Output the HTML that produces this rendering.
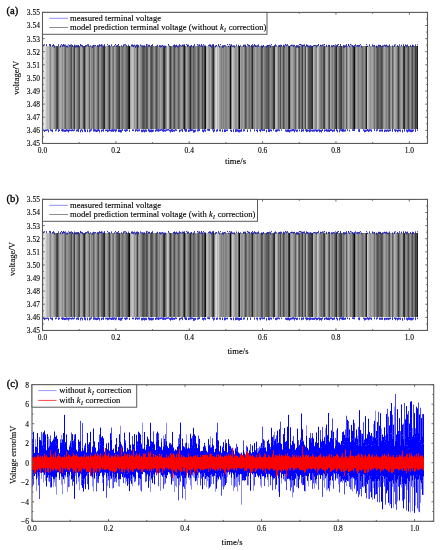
<!DOCTYPE html>
<html><head><meta charset="utf-8"><title>Figure</title>
<style>html,body{margin:0;padding:0;background:#fff;}body{width:441px;height:550px;overflow:hidden;}svg{display:block;}</style>
</head><body>
<svg width="441" height="550" viewBox="0 0 441 550" style="font-family:'Liberation Serif',serif"><rect width="441" height="550" fill="#fff"/><g shape-rendering="crispEdges"><rect x="43" y="45.9" width="1" height="83.2" fill="#dadada"/><rect x="44" y="45.9" width="1" height="83.2" fill="#e6e6e6"/><rect x="45" y="45.9" width="1" height="83.2" fill="#dadada"/><rect x="46" y="45.9" width="1" height="83.2" fill="#c3c3c3"/><rect x="47" y="45.9" width="1" height="83.2" fill="#b5b5b5"/><rect x="48" y="45.9" width="1" height="83.2" fill="#bbbbbb"/><rect x="49" y="45.9" width="1" height="83.2" fill="#a3a3a3"/><rect x="50" y="45.9" width="1" height="83.2" fill="#888888"/><rect x="51" y="45.9" width="1" height="83.2" fill="#aaaaaa"/><rect x="52" y="45.9" width="1" height="83.2" fill="#b2b2b2"/><rect x="53" y="45.9" width="1" height="83.2" fill="#a3a3a3"/><rect x="54" y="45.9" width="1" height="83.2" fill="#919191"/><rect x="55" y="45.9" width="1" height="83.2" fill="#808080"/><rect x="56" y="45.9" width="1" height="83.2" fill="#4c4c4c"/><rect x="57" y="45.9" width="1" height="83.2" fill="#3c3c3c"/><rect x="58" y="45.9" width="1" height="83.2" fill="#6e6e6e"/><rect x="59" y="45.9" width="1" height="83.2" fill="#a3a3a3"/><rect x="60" y="45.9" width="1" height="83.2" fill="#aaaaaa"/><rect x="61" y="45.9" width="1" height="83.2" fill="#a3a3a3"/><rect x="62" y="45.9" width="1" height="83.2" fill="#919191"/><rect x="63" y="45.9" width="1" height="83.2" fill="#a3a3a3"/><rect x="64" y="45.9" width="1" height="83.2" fill="#808080"/><rect x="65" y="45.9" width="1" height="83.2" fill="#5d5d5d"/><rect x="66" y="45.9" width="1" height="83.2" fill="#919191"/><rect x="67" y="45.9" width="1" height="83.2" fill="#919191"/><rect x="68" y="45.9" width="1" height="83.2" fill="#888888"/><rect x="69" y="45.9" width="1" height="83.2" fill="#808080"/><rect x="70" y="45.9" width="1" height="83.2" fill="#6e6e6e"/><rect x="71" y="45.9" width="1" height="83.2" fill="#4c4c4c"/><rect x="72" y="45.9" width="1" height="83.2" fill="#919191"/><rect x="73" y="45.9" width="1" height="83.2" fill="#6e6e6e"/><rect x="74" y="45.9" width="1" height="83.2" fill="#3c3c3c"/><rect x="75" y="45.9" width="1" height="83.2" fill="#a3a3a3"/><rect x="76" y="45.9" width="1" height="83.2" fill="#919191"/><rect x="77" y="45.9" width="1" height="83.2" fill="#808080"/><rect x="78" y="45.9" width="1" height="83.2" fill="#5d5d5d"/><rect x="79" y="45.9" width="1" height="83.2" fill="#4c4c4c"/><rect x="80" y="45.9" width="1" height="83.2" fill="#a3a3a3"/><rect x="81" y="45.9" width="1" height="83.2" fill="#a3a3a3"/><rect x="82" y="45.9" width="1" height="83.2" fill="#919191"/><rect x="83" y="45.9" width="1" height="83.2" fill="#4c4c4c"/><rect x="84" y="45.9" width="1" height="83.2" fill="#2b2b2b"/><rect x="85" y="45.9" width="1" height="83.2" fill="#808080"/><rect x="86" y="45.9" width="1" height="83.2" fill="#aaaaaa"/><rect x="87" y="45.9" width="1" height="83.2" fill="#a3a3a3"/><rect x="88" y="45.9" width="1" height="83.2" fill="#919191"/><rect x="89" y="45.9" width="1" height="83.2" fill="#5d5d5d"/><rect x="90" y="45.9" width="1" height="83.2" fill="#a3a3a3"/><rect x="91" y="45.9" width="1" height="83.2" fill="#808080"/><rect x="92" y="45.9" width="1" height="83.2" fill="#919191"/><rect x="93" y="45.9" width="1" height="83.2" fill="#5d5d5d"/><rect x="94" y="45.9" width="1" height="83.2" fill="#808080"/><rect x="95" y="45.9" width="1" height="83.2" fill="#a3a3a3"/><rect x="96" y="45.9" width="1" height="83.2" fill="#919191"/><rect x="97" y="45.9" width="1" height="83.2" fill="#6e6e6e"/><rect x="98" y="45.9" width="1" height="83.2" fill="#4c4c4c"/><rect x="99" y="45.9" width="1" height="83.2" fill="#919191"/><rect x="100" y="45.9" width="1" height="83.2" fill="#919191"/><rect x="101" y="45.9" width="1" height="83.2" fill="#6e6e6e"/><rect x="102" y="45.9" width="1" height="83.2" fill="#5d5d5d"/><rect x="103" y="45.9" width="1" height="83.2" fill="#3c3c3c"/><rect x="104" y="45.9" width="1" height="83.2" fill="#2b2b2b"/><rect x="105" y="45.9" width="1" height="83.2" fill="#919191"/><rect x="106" y="45.9" width="1" height="83.2" fill="#a3a3a3"/><rect x="107" y="45.9" width="1" height="83.2" fill="#919191"/><rect x="108" y="45.9" width="1" height="83.2" fill="#6e6e6e"/><rect x="109" y="45.9" width="1" height="83.2" fill="#3c3c3c"/><rect x="110" y="45.9" width="1" height="83.2" fill="#808080"/><rect x="111" y="45.9" width="1" height="83.2" fill="#a3a3a3"/><rect x="112" y="45.9" width="1" height="83.2" fill="#808080"/><rect x="113" y="45.9" width="1" height="83.2" fill="#6e6e6e"/><rect x="114" y="45.9" width="1" height="83.2" fill="#a3a3a3"/><rect x="115" y="45.9" width="1" height="83.2" fill="#919191"/><rect x="116" y="45.9" width="1" height="83.2" fill="#6e6e6e"/><rect x="117" y="45.9" width="1" height="83.2" fill="#5d5d5d"/><rect x="118" y="45.9" width="1" height="83.2" fill="#4c4c4c"/><rect x="119" y="45.9" width="1" height="83.2" fill="#3c3c3c"/><rect x="120" y="45.9" width="1" height="83.2" fill="#919191"/><rect x="121" y="45.9" width="1" height="83.2" fill="#808080"/><rect x="122" y="45.9" width="1" height="83.2" fill="#6e6e6e"/><rect x="123" y="45.9" width="1" height="83.2" fill="#808080"/><rect x="124" y="45.9" width="1" height="83.2" fill="#919191"/><rect x="125" y="45.9" width="1" height="83.2" fill="#808080"/><rect x="126" y="45.9" width="1" height="83.2" fill="#6e6e6e"/><rect x="127" y="45.9" width="1" height="83.2" fill="#5d5d5d"/><rect x="128" y="45.9" width="1" height="83.2" fill="#2b2b2b"/><rect x="129" y="45.9" width="1" height="83.2" fill="#0d0d0d"/><rect x="130" y="45.9" width="1" height="83.2" fill="#a3a3a3"/><rect x="131" y="45.9" width="1" height="83.2" fill="#bbbbbb"/><rect x="132" y="45.9" width="1" height="83.2" fill="#c3c3c3"/><rect x="133" y="45.9" width="1" height="83.2" fill="#b5b5b5"/><rect x="134" y="45.9" width="1" height="83.2" fill="#919191"/><rect x="135" y="45.9" width="1" height="83.2" fill="#a3a3a3"/><rect x="136" y="45.9" width="1" height="83.2" fill="#808080"/><rect x="137" y="45.9" width="1" height="83.2" fill="#3c3c3c"/><rect x="138" y="45.9" width="1" height="83.2" fill="#919191"/><rect x="139" y="45.9" width="1" height="83.2" fill="#a3a3a3"/><rect x="140" y="45.9" width="1" height="83.2" fill="#919191"/><rect x="141" y="45.9" width="1" height="83.2" fill="#808080"/><rect x="142" y="45.9" width="1" height="83.2" fill="#5d5d5d"/><rect x="143" y="45.9" width="1" height="83.2" fill="#4c4c4c"/><rect x="144" y="45.9" width="1" height="83.2" fill="#5d5d5d"/><rect x="145" y="45.9" width="1" height="83.2" fill="#6e6e6e"/><rect x="146" y="45.9" width="1" height="83.2" fill="#4c4c4c"/><rect x="147" y="45.9" width="1" height="83.2" fill="#5d5d5d"/><rect x="148" y="45.9" width="1" height="83.2" fill="#919191"/><rect x="149" y="45.9" width="1" height="83.2" fill="#a3a3a3"/><rect x="150" y="45.9" width="1" height="83.2" fill="#5d5d5d"/><rect x="151" y="45.9" width="1" height="83.2" fill="#4c4c4c"/><rect x="152" y="45.9" width="1" height="83.2" fill="#5d5d5d"/><rect x="153" y="45.9" width="1" height="83.2" fill="#808080"/><rect x="154" y="45.9" width="1" height="83.2" fill="#919191"/><rect x="155" y="45.9" width="1" height="83.2" fill="#6e6e6e"/><rect x="156" y="45.9" width="1" height="83.2" fill="#4c4c4c"/><rect x="157" y="45.9" width="1" height="83.2" fill="#6e6e6e"/><rect x="158" y="45.9" width="1" height="83.2" fill="#919191"/><rect x="159" y="45.9" width="1" height="83.2" fill="#808080"/><rect x="160" y="45.9" width="1" height="83.2" fill="#a3a3a3"/><rect x="161" y="45.9" width="1" height="83.2" fill="#919191"/><rect x="162" y="45.9" width="1" height="83.2" fill="#808080"/><rect x="163" y="45.9" width="1" height="83.2" fill="#3c3c3c"/><rect x="164" y="45.9" width="1" height="83.2" fill="#2b2b2b"/><rect x="165" y="45.9" width="1" height="83.2" fill="#6e6e6e"/><rect x="166" y="45.9" width="1" height="83.2" fill="#919191"/><rect x="167" y="45.9" width="1" height="83.2" fill="#c3c3c3"/><rect x="168" y="45.9" width="1" height="83.2" fill="#b5b5b5"/><rect x="169" y="45.9" width="1" height="83.2" fill="#6e6e6e"/><rect x="170" y="45.9" width="1" height="83.2" fill="#3c3c3c"/><rect x="171" y="45.9" width="1" height="83.2" fill="#6e6e6e"/><rect x="172" y="45.9" width="1" height="83.2" fill="#919191"/><rect x="173" y="45.9" width="1" height="83.2" fill="#6e6e6e"/><rect x="174" y="45.9" width="1" height="83.2" fill="#4c4c4c"/><rect x="175" y="45.9" width="1" height="83.2" fill="#808080"/><rect x="176" y="45.9" width="1" height="83.2" fill="#919191"/><rect x="177" y="45.9" width="1" height="83.2" fill="#808080"/><rect x="178" y="45.9" width="1" height="83.2" fill="#5d5d5d"/><rect x="179" y="45.9" width="1" height="83.2" fill="#6e6e6e"/><rect x="180" y="45.9" width="1" height="83.2" fill="#919191"/><rect x="181" y="45.9" width="1" height="83.2" fill="#a3a3a3"/><rect x="182" y="45.9" width="1" height="83.2" fill="#919191"/><rect x="183" y="45.9" width="1" height="83.2" fill="#4c4c4c"/><rect x="184" y="45.9" width="1" height="83.2" fill="#1c1c1c"/><rect x="185" y="45.9" width="1" height="83.2" fill="#6e6e6e"/><rect x="186" y="45.9" width="1" height="83.2" fill="#a3a3a3"/><rect x="187" y="45.9" width="1" height="83.2" fill="#919191"/><rect x="188" y="45.9" width="1" height="83.2" fill="#808080"/><rect x="189" y="45.9" width="1" height="83.2" fill="#5d5d5d"/><rect x="190" y="45.9" width="1" height="83.2" fill="#2b2b2b"/><rect x="191" y="45.9" width="1" height="83.2" fill="#6e6e6e"/><rect x="192" y="45.9" width="1" height="83.2" fill="#808080"/><rect x="193" y="45.9" width="1" height="83.2" fill="#5d5d5d"/><rect x="194" y="45.9" width="1" height="83.2" fill="#6e6e6e"/><rect x="195" y="45.9" width="1" height="83.2" fill="#808080"/><rect x="196" y="45.9" width="1" height="83.2" fill="#919191"/><rect x="197" y="45.9" width="1" height="83.2" fill="#6e6e6e"/><rect x="198" y="45.9" width="1" height="83.2" fill="#4c4c4c"/><rect x="199" y="45.9" width="1" height="83.2" fill="#6e6e6e"/><rect x="200" y="45.9" width="1" height="83.2" fill="#919191"/><rect x="201" y="45.9" width="1" height="83.2" fill="#808080"/><rect x="202" y="45.9" width="1" height="83.2" fill="#4c4c4c"/><rect x="203" y="45.9" width="1" height="83.2" fill="#6e6e6e"/><rect x="204" y="45.9" width="1" height="83.2" fill="#3c3c3c"/><rect x="205" y="45.9" width="1" height="83.2" fill="#0d0d0d"/><rect x="206" y="45.9" width="1" height="83.2" fill="#b5b5b5"/><rect x="207" y="45.9" width="1" height="83.2" fill="#bbbbbb"/><rect x="208" y="45.9" width="1" height="83.2" fill="#a3a3a3"/><rect x="209" y="45.9" width="1" height="83.2" fill="#919191"/><rect x="210" y="45.9" width="1" height="83.2" fill="#a3a3a3"/><rect x="211" y="45.9" width="1" height="83.2" fill="#808080"/><rect x="212" y="45.9" width="1" height="83.2" fill="#4c4c4c"/><rect x="213" y="45.9" width="1" height="83.2" fill="#2b2b2b"/><rect x="214" y="45.9" width="1" height="83.2" fill="#808080"/><rect x="215" y="45.9" width="1" height="83.2" fill="#c7c7c7"/><rect x="216" y="45.9" width="1" height="83.2" fill="#dadada"/><rect x="217" y="45.9" width="1" height="83.2" fill="#b5b5b5"/><rect x="218" y="45.9" width="1" height="83.2" fill="#c7c7c7"/><rect x="219" y="45.9" width="1" height="83.2" fill="#a3a3a3"/><rect x="220" y="45.9" width="1" height="83.2" fill="#919191"/><rect x="221" y="45.9" width="1" height="83.2" fill="#808080"/><rect x="222" y="45.9" width="1" height="83.2" fill="#919191"/><rect x="223" y="45.9" width="1" height="83.2" fill="#808080"/><rect x="224" y="45.9" width="1" height="83.2" fill="#919191"/><rect x="225" y="45.9" width="1" height="83.2" fill="#808080"/><rect x="226" y="45.9" width="1" height="83.2" fill="#808080"/><rect x="227" y="45.9" width="1" height="83.2" fill="#919191"/><rect x="228" y="45.9" width="1" height="83.2" fill="#919191"/><rect x="229" y="45.9" width="1" height="83.2" fill="#6e6e6e"/><rect x="230" y="45.9" width="1" height="83.2" fill="#0d0d0d"/><rect x="231" y="45.9" width="1" height="83.2" fill="#808080"/><rect x="232" y="45.9" width="1" height="83.2" fill="#c7c7c7"/><rect x="233" y="45.9" width="1" height="83.2" fill="#b5b5b5"/><rect x="234" y="45.9" width="1" height="83.2" fill="#a3a3a3"/><rect x="235" y="45.9" width="1" height="83.2" fill="#919191"/><rect x="236" y="45.9" width="1" height="83.2" fill="#919191"/><rect x="237" y="45.9" width="1" height="83.2" fill="#a3a3a3"/><rect x="238" y="45.9" width="1" height="83.2" fill="#4c4c4c"/><rect x="239" y="45.9" width="1" height="83.2" fill="#0d0d0d"/><rect x="240" y="45.9" width="1" height="83.2" fill="#a3a3a3"/><rect x="241" y="45.9" width="1" height="83.2" fill="#919191"/><rect x="242" y="45.9" width="1" height="83.2" fill="#919191"/><rect x="243" y="45.9" width="1" height="83.2" fill="#a3a3a3"/><rect x="244" y="45.9" width="1" height="83.2" fill="#808080"/><rect x="245" y="45.9" width="1" height="83.2" fill="#4c4c4c"/><rect x="246" y="45.9" width="1" height="83.2" fill="#6e6e6e"/><rect x="247" y="45.9" width="1" height="83.2" fill="#919191"/><rect x="248" y="45.9" width="1" height="83.2" fill="#808080"/><rect x="249" y="45.9" width="1" height="83.2" fill="#6e6e6e"/><rect x="250" y="45.9" width="1" height="83.2" fill="#808080"/><rect x="251" y="45.9" width="1" height="83.2" fill="#5d5d5d"/><rect x="252" y="45.9" width="1" height="83.2" fill="#2b2b2b"/><rect x="253" y="45.9" width="1" height="83.2" fill="#808080"/><rect x="254" y="45.9" width="1" height="83.2" fill="#919191"/><rect x="255" y="45.9" width="1" height="83.2" fill="#a3a3a3"/><rect x="256" y="45.9" width="1" height="83.2" fill="#919191"/><rect x="257" y="45.9" width="1" height="83.2" fill="#808080"/><rect x="258" y="45.9" width="1" height="83.2" fill="#919191"/><rect x="259" y="45.9" width="1" height="83.2" fill="#919191"/><rect x="260" y="45.9" width="1" height="83.2" fill="#808080"/><rect x="261" y="45.9" width="1" height="83.2" fill="#4c4c4c"/><rect x="262" y="45.9" width="1" height="83.2" fill="#5d5d5d"/><rect x="263" y="45.9" width="1" height="83.2" fill="#919191"/><rect x="264" y="45.9" width="1" height="83.2" fill="#808080"/><rect x="265" y="45.9" width="1" height="83.2" fill="#6e6e6e"/><rect x="266" y="45.9" width="1" height="83.2" fill="#5d5d5d"/><rect x="267" y="45.9" width="1" height="83.2" fill="#5d5d5d"/><rect x="268" y="45.9" width="1" height="83.2" fill="#4c4c4c"/><rect x="269" y="45.9" width="1" height="83.2" fill="#6e6e6e"/><rect x="270" y="45.9" width="1" height="83.2" fill="#919191"/><rect x="271" y="45.9" width="1" height="83.2" fill="#808080"/><rect x="272" y="45.9" width="1" height="83.2" fill="#6e6e6e"/><rect x="273" y="45.9" width="1" height="83.2" fill="#3c3c3c"/><rect x="274" y="45.9" width="1" height="83.2" fill="#2b2b2b"/><rect x="275" y="45.9" width="1" height="83.2" fill="#b5b5b5"/><rect x="276" y="45.9" width="1" height="83.2" fill="#bbbbbb"/><rect x="277" y="45.9" width="1" height="83.2" fill="#a3a3a3"/><rect x="278" y="45.9" width="1" height="83.2" fill="#6e6e6e"/><rect x="279" y="45.9" width="1" height="83.2" fill="#808080"/><rect x="280" y="45.9" width="1" height="83.2" fill="#4c4c4c"/><rect x="281" y="45.9" width="1" height="83.2" fill="#919191"/><rect x="282" y="45.9" width="1" height="83.2" fill="#808080"/><rect x="283" y="45.9" width="1" height="83.2" fill="#4c4c4c"/><rect x="284" y="45.9" width="1" height="83.2" fill="#6e6e6e"/><rect x="285" y="45.9" width="1" height="83.2" fill="#919191"/><rect x="286" y="45.9" width="1" height="83.2" fill="#808080"/><rect x="287" y="45.9" width="1" height="83.2" fill="#919191"/><rect x="288" y="45.9" width="1" height="83.2" fill="#3c3c3c"/><rect x="289" y="45.9" width="1" height="83.2" fill="#1c1c1c"/><rect x="290" y="45.9" width="1" height="83.2" fill="#919191"/><rect x="291" y="45.9" width="1" height="83.2" fill="#a3a3a3"/><rect x="292" y="45.9" width="1" height="83.2" fill="#a3a3a3"/><rect x="293" y="45.9" width="1" height="83.2" fill="#919191"/><rect x="294" y="45.9" width="1" height="83.2" fill="#808080"/><rect x="295" y="45.9" width="1" height="83.2" fill="#5d5d5d"/><rect x="296" y="45.9" width="1" height="83.2" fill="#919191"/><rect x="297" y="45.9" width="1" height="83.2" fill="#b5b5b5"/><rect x="298" y="45.9" width="1" height="83.2" fill="#6e6e6e"/><rect x="299" y="45.9" width="1" height="83.2" fill="#4c4c4c"/><rect x="300" y="45.9" width="1" height="83.2" fill="#808080"/><rect x="301" y="45.9" width="1" height="83.2" fill="#6e6e6e"/><rect x="302" y="45.9" width="1" height="83.2" fill="#3c3c3c"/><rect x="303" y="45.9" width="1" height="83.2" fill="#919191"/><rect x="304" y="45.9" width="1" height="83.2" fill="#808080"/><rect x="305" y="45.9" width="1" height="83.2" fill="#4c4c4c"/><rect x="306" y="45.9" width="1" height="83.2" fill="#b5b5b5"/><rect x="307" y="45.9" width="1" height="83.2" fill="#919191"/><rect x="308" y="45.9" width="1" height="83.2" fill="#5d5d5d"/><rect x="309" y="45.9" width="1" height="83.2" fill="#4c4c4c"/><rect x="310" y="45.9" width="1" height="83.2" fill="#4c4c4c"/><rect x="311" y="45.9" width="1" height="83.2" fill="#3c3c3c"/><rect x="312" y="45.9" width="1" height="83.2" fill="#2b2b2b"/><rect x="313" y="45.9" width="1" height="83.2" fill="#b5b5b5"/><rect x="314" y="45.9" width="1" height="83.2" fill="#a3a3a3"/><rect x="315" y="45.9" width="1" height="83.2" fill="#919191"/><rect x="316" y="45.9" width="1" height="83.2" fill="#808080"/><rect x="317" y="45.9" width="1" height="83.2" fill="#c7c7c7"/><rect x="318" y="45.9" width="1" height="83.2" fill="#b5b5b5"/><rect x="319" y="45.9" width="1" height="83.2" fill="#919191"/><rect x="320" y="45.9" width="1" height="83.2" fill="#808080"/><rect x="321" y="45.9" width="1" height="83.2" fill="#6e6e6e"/><rect x="322" y="45.9" width="1" height="83.2" fill="#808080"/><rect x="323" y="45.9" width="1" height="83.2" fill="#4c4c4c"/><rect x="324" y="45.9" width="1" height="83.2" fill="#3c3c3c"/><rect x="325" y="45.9" width="1" height="83.2" fill="#919191"/><rect x="326" y="45.9" width="1" height="83.2" fill="#b5b5b5"/><rect x="327" y="45.9" width="1" height="83.2" fill="#a3a3a3"/><rect x="328" y="45.9" width="1" height="83.2" fill="#6e6e6e"/><rect x="329" y="45.9" width="1" height="83.2" fill="#4c4c4c"/><rect x="330" y="45.9" width="1" height="83.2" fill="#a3a3a3"/><rect x="331" y="45.9" width="1" height="83.2" fill="#919191"/><rect x="332" y="45.9" width="1" height="83.2" fill="#808080"/><rect x="333" y="45.9" width="1" height="83.2" fill="#919191"/><rect x="334" y="45.9" width="1" height="83.2" fill="#6e6e6e"/><rect x="335" y="45.9" width="1" height="83.2" fill="#4c4c4c"/><rect x="336" y="45.9" width="1" height="83.2" fill="#2b2b2b"/><rect x="337" y="45.9" width="1" height="83.2" fill="#919191"/><rect x="338" y="45.9" width="1" height="83.2" fill="#808080"/><rect x="339" y="45.9" width="1" height="83.2" fill="#5d5d5d"/><rect x="340" y="45.9" width="1" height="83.2" fill="#4c4c4c"/><rect x="341" y="45.9" width="1" height="83.2" fill="#3c3c3c"/><rect x="342" y="45.9" width="1" height="83.2" fill="#808080"/><rect x="343" y="45.9" width="1" height="83.2" fill="#6e6e6e"/><rect x="344" y="45.9" width="1" height="83.2" fill="#919191"/><rect x="345" y="45.9" width="1" height="83.2" fill="#a3a3a3"/><rect x="346" y="45.9" width="1" height="83.2" fill="#5d5d5d"/><rect x="347" y="45.9" width="1" height="83.2" fill="#919191"/><rect x="348" y="45.9" width="1" height="83.2" fill="#b5b5b5"/><rect x="349" y="45.9" width="1" height="83.2" fill="#a3a3a3"/><rect x="350" y="45.9" width="1" height="83.2" fill="#808080"/><rect x="351" y="45.9" width="1" height="83.2" fill="#919191"/><rect x="352" y="45.9" width="1" height="83.2" fill="#6e6e6e"/><rect x="353" y="45.9" width="1" height="83.2" fill="#3c3c3c"/><rect x="354" y="45.9" width="1" height="83.2" fill="#0d0d0d"/><rect x="355" y="45.9" width="1" height="83.2" fill="#808080"/><rect x="356" y="45.9" width="1" height="83.2" fill="#a3a3a3"/><rect x="357" y="45.9" width="1" height="83.2" fill="#919191"/><rect x="358" y="45.9" width="1" height="83.2" fill="#808080"/><rect x="359" y="45.9" width="1" height="83.2" fill="#919191"/><rect x="360" y="45.9" width="1" height="83.2" fill="#919191"/><rect x="361" y="45.9" width="1" height="83.2" fill="#808080"/><rect x="362" y="45.9" width="1" height="83.2" fill="#6e6e6e"/><rect x="363" y="45.9" width="1" height="83.2" fill="#808080"/><rect x="364" y="45.9" width="1" height="83.2" fill="#919191"/><rect x="365" y="45.9" width="1" height="83.2" fill="#5d5d5d"/><rect x="366" y="45.9" width="1" height="83.2" fill="#1c1c1c"/><rect x="367" y="45.9" width="1" height="83.2" fill="#c7c7c7"/><rect x="368" y="45.9" width="1" height="83.2" fill="#b5b5b5"/><rect x="369" y="45.9" width="1" height="83.2" fill="#a3a3a3"/><rect x="370" y="45.9" width="1" height="83.2" fill="#919191"/><rect x="371" y="45.9" width="1" height="83.2" fill="#a3a3a3"/><rect x="372" y="45.9" width="1" height="83.2" fill="#a3a3a3"/><rect x="373" y="45.9" width="1" height="83.2" fill="#919191"/><rect x="374" y="45.9" width="1" height="83.2" fill="#6e6e6e"/><rect x="375" y="45.9" width="1" height="83.2" fill="#919191"/><rect x="376" y="45.9" width="1" height="83.2" fill="#6e6e6e"/><rect x="377" y="45.9" width="1" height="83.2" fill="#4c4c4c"/><rect x="378" y="45.9" width="1" height="83.2" fill="#5d5d5d"/><rect x="379" y="45.9" width="1" height="83.2" fill="#6e6e6e"/><rect x="380" y="45.9" width="1" height="83.2" fill="#5d5d5d"/><rect x="381" y="45.9" width="1" height="83.2" fill="#4c4c4c"/><rect x="382" y="45.9" width="1" height="83.2" fill="#5d5d5d"/><rect x="383" y="45.9" width="1" height="83.2" fill="#919191"/><rect x="384" y="45.9" width="1" height="83.2" fill="#a3a3a3"/><rect x="385" y="45.9" width="1" height="83.2" fill="#919191"/><rect x="386" y="45.9" width="1" height="83.2" fill="#808080"/><rect x="387" y="45.9" width="1" height="83.2" fill="#919191"/><rect x="388" y="45.9" width="1" height="83.2" fill="#6e6e6e"/><rect x="389" y="45.9" width="1" height="83.2" fill="#4c4c4c"/><rect x="390" y="45.9" width="1" height="83.2" fill="#919191"/><rect x="391" y="45.9" width="1" height="83.2" fill="#a3a3a3"/><rect x="392" y="45.9" width="1" height="83.2" fill="#5d5d5d"/><rect x="393" y="45.9" width="1" height="83.2" fill="#808080"/><rect x="394" y="45.9" width="1" height="83.2" fill="#b5b5b5"/><rect x="395" y="45.9" width="1" height="83.2" fill="#a3a3a3"/><rect x="396" y="45.9" width="1" height="83.2" fill="#919191"/><rect x="397" y="45.9" width="1" height="83.2" fill="#6e6e6e"/><rect x="398" y="45.9" width="1" height="83.2" fill="#3c3c3c"/><rect x="399" y="45.9" width="1" height="83.2" fill="#6e6e6e"/><rect x="400" y="45.9" width="1" height="83.2" fill="#919191"/><rect x="401" y="45.9" width="1" height="83.2" fill="#a3a3a3"/><rect x="402" y="45.9" width="1" height="83.2" fill="#919191"/><rect x="403" y="45.9" width="1" height="83.2" fill="#3c3c3c"/><rect x="404" y="45.9" width="1" height="83.2" fill="#2b2b2b"/><rect x="405" y="45.9" width="1" height="83.2" fill="#808080"/><rect x="406" y="45.9" width="1" height="83.2" fill="#919191"/><rect x="407" y="45.9" width="1" height="83.2" fill="#6e6e6e"/><rect x="408" y="45.9" width="1" height="83.2" fill="#4c4c4c"/><rect x="409" y="45.9" width="1" height="83.2" fill="#808080"/><rect x="410" y="45.9" width="1" height="83.2" fill="#919191"/><rect x="411" y="45.9" width="1" height="83.2" fill="#6e6e6e"/><rect x="412" y="45.9" width="1" height="83.2" fill="#4c4c4c"/><rect x="413" y="45.9" width="1" height="83.2" fill="#808080"/><rect x="414" y="45.9" width="1" height="83.2" fill="#6e6e6e"/><rect x="415" y="45.9" width="1" height="83.2" fill="#3c3c3c"/><rect x="416" y="45.9" width="1" height="83.2" fill="#4c4c4c"/><rect x="417" y="45.9" width="1" height="83.2" fill="#1c1c1c"/></g><path d="M43.5 44.8v1.5M44.5 44.2v1.4M46.5 44.2v1.7M49.5 44.1v1.6M50.5 44.1v2.2M52.5 45.1v1.5M53.5 44.1v2.2M54.5 45.5v2.2M58.5 44.3v1.6M60.5 45.2v2.2M61.5 44.0v1.4M62.5 45.0v1.9M63.5 44.0v2.3M64.5 44.7v1.8M65.5 44.5v1.3M66.5 45.7v1.6M67.5 45.6v1.9M68.5 44.4v1.0M69.5 44.9v1.8M70.5 44.7v1.4M71.5 44.4v1.4M72.5 45.0v2.0M74.5 44.6v2.2M75.5 45.4v2.1M76.5 45.2v2.1M77.5 45.2v2.1M78.5 45.0v2.3M80.5 44.0v2.3M81.5 44.8v1.4M82.5 45.2v2.1M85.5 45.2v1.9M86.5 45.1v1.4M87.5 44.3v1.5M88.5 44.3v2.3M90.5 45.3v1.4M92.5 45.6v2.4M93.5 44.8v1.4M94.5 45.1v1.3M95.5 45.1v1.1M97.5 45.1v1.7M98.5 45.3v1.8M99.5 44.2v2.3M100.5 44.9v1.2M101.5 44.2v2.1M102.5 44.7v1.0M103.5 45.6v2.2M104.5 44.2v1.9M107.5 44.1v1.1M108.5 45.4v1.3M109.5 45.0v1.5M111.5 44.4v1.9M114.5 45.3v1.3M115.5 44.0v1.4M116.5 45.3v1.3M117.5 45.1v1.5M118.5 44.0v1.7M121.5 45.3v1.3M123.5 44.5v2.2M124.5 44.2v1.4M125.5 44.2v1.4M126.5 45.1v1.6M128.5 44.6v1.2M131.5 44.5v1.9M132.5 44.4v2.3M133.5 45.1v2.0M134.5 44.6v1.3M135.5 45.5v2.3M136.5 44.7v1.9M137.5 44.5v2.1M138.5 45.1v2.2M140.5 44.4v1.5M141.5 45.3v1.1M142.5 45.4v1.6M143.5 45.5v1.6M144.5 45.3v2.1M146.5 44.0v2.0M147.5 44.4v1.0M148.5 44.9v1.7M149.5 44.8v1.9M151.5 45.1v1.3M152.5 44.2v2.0M156.5 45.7v1.1M157.5 44.8v1.6M159.5 45.1v1.5M160.5 45.4v2.1M161.5 45.4v1.6M162.5 44.9v1.1M163.5 45.7v1.6M164.5 45.6v1.7M165.5 45.7v2.0M168.5 44.0v1.8M169.5 45.7v1.1M173.5 45.0v1.5M174.5 44.4v2.2M175.5 45.3v2.1M176.5 44.7v2.0M177.5 45.7v1.7M178.5 45.6v1.3M179.5 44.2v2.2M180.5 45.1v1.1M181.5 45.6v1.1M182.5 44.6v1.8M183.5 44.7v1.6M184.5 44.3v1.7M186.5 44.1v1.1M187.5 44.6v2.1M188.5 44.7v1.6M190.5 45.6v1.5M191.5 45.0v1.9M193.5 45.5v2.3M194.5 44.1v1.8M197.5 44.1v1.3M198.5 44.6v1.1M199.5 44.4v2.0M200.5 45.6v1.2M201.5 44.0v2.4M202.5 45.5v1.4M203.5 44.2v1.4M204.5 45.3v2.1M205.5 45.5v1.1M208.5 45.1v1.1M209.5 44.3v1.6M210.5 44.5v2.3M211.5 45.5v2.1M212.5 44.3v1.8M213.5 44.1v2.3M215.5 45.4v2.0M216.5 45.0v1.5M218.5 44.2v2.2M219.5 45.7v1.8M220.5 44.1v1.1M222.5 45.4v2.3M223.5 45.3v2.3M224.5 45.0v1.4M225.5 45.3v1.3M227.5 44.0v1.1M228.5 45.7v1.3M229.5 44.1v1.2M230.5 44.6v1.2M231.5 44.3v2.2M232.5 45.6v1.5M233.5 45.5v1.2M234.5 45.4v2.3M236.5 44.5v1.4M238.5 44.8v2.2M240.5 45.3v1.3M243.5 44.8v2.1M244.5 44.7v1.5M245.5 44.7v2.4M247.5 44.0v1.4M248.5 44.6v1.4M249.5 44.9v1.7M251.5 45.0v2.2M252.5 44.2v1.5M253.5 45.4v1.8M254.5 44.2v2.0M255.5 45.1v1.9M256.5 45.5v1.3M257.5 45.2v1.4M258.5 44.4v2.2M261.5 45.4v2.2M262.5 45.7v2.2M263.5 45.0v1.9M266.5 45.7v1.7M267.5 45.0v1.8M268.5 45.0v1.1M269.5 44.7v1.1M270.5 45.2v2.4M271.5 44.1v1.2M274.5 45.2v1.3M275.5 44.3v2.3M276.5 45.4v1.1M278.5 45.3v1.4M279.5 45.0v1.8M280.5 44.7v1.2M281.5 44.8v1.8M283.5 44.7v1.4M284.5 45.3v2.1M285.5 44.0v1.7M286.5 44.7v1.2M287.5 44.2v1.6M288.5 45.6v2.1M290.5 45.2v1.0M291.5 44.7v1.3M292.5 44.8v1.4M293.5 45.0v1.8M294.5 44.8v1.2M296.5 45.2v2.3M297.5 45.3v2.3M298.5 45.3v2.4M299.5 44.1v1.1M300.5 44.0v1.5M301.5 44.5v1.4M302.5 44.8v2.0M303.5 44.7v1.5M304.5 44.4v1.7M306.5 44.4v2.3M307.5 44.9v2.0M308.5 45.5v1.2M309.5 45.6v2.1M310.5 45.3v2.0M311.5 45.7v1.7M313.5 45.2v1.3M314.5 45.0v1.1M315.5 45.2v1.0M316.5 45.3v2.1M317.5 45.0v1.4M318.5 44.1v1.8M320.5 44.8v1.7M321.5 44.9v1.0M322.5 44.5v1.4M323.5 44.6v1.1M324.5 44.0v1.3M326.5 44.8v2.3M328.5 44.9v1.8M329.5 44.9v1.4M331.5 45.3v1.8M332.5 45.4v1.7M333.5 45.0v1.1M334.5 45.3v1.3M335.5 44.4v1.1M336.5 45.1v1.7M337.5 44.5v2.3M338.5 44.0v1.2M340.5 44.2v2.3M343.5 45.1v2.4M344.5 45.3v2.3M345.5 45.4v1.8M346.5 44.2v2.3M348.5 44.0v2.3M349.5 45.5v1.6M350.5 44.0v1.3M351.5 44.6v1.1M352.5 45.1v1.9M353.5 45.7v2.2M354.5 45.2v1.8M355.5 44.3v1.6M356.5 45.5v1.2M357.5 45.1v1.7M358.5 45.1v1.5M359.5 44.9v1.7M360.5 44.2v1.2M361.5 45.6v1.8M366.5 44.1v1.1M367.5 45.7v1.3M369.5 44.4v2.0M372.5 44.4v2.1M373.5 45.3v1.2M374.5 45.0v1.7M376.5 45.6v2.3M378.5 44.7v1.5M379.5 44.9v1.9M380.5 44.9v2.2M382.5 45.4v1.4M383.5 45.4v1.3M384.5 44.7v1.4M385.5 45.0v1.7M386.5 44.6v1.8M387.5 45.6v1.8M388.5 45.7v1.2M389.5 44.5v1.9M392.5 45.5v1.6M394.5 44.6v2.4M395.5 44.3v1.1M397.5 45.1v1.6M399.5 44.3v1.5M401.5 44.7v1.7M403.5 44.3v2.2M405.5 44.4v1.8M406.5 45.2v2.3M407.5 44.6v1.7M410.5 45.1v1.8M412.5 44.7v2.2M413.5 45.2v1.9M415.5 44.4v1.5M417.5 44.3v1.0" stroke="#2828b0" stroke-width="1" fill="none"/><path d="M43.5 129.5v1.5M44.5 129.8v2.2M45.5 129.5v1.6M46.5 129.5v1.5M47.5 129.2v1.4M48.5 129.5v2.8M50.5 129.1v1.7M51.5 129.5v1.9M52.5 129.4v2.8M55.5 129.5v1.7M56.5 129.2v1.5M58.5 129.2v2.6M59.5 129.5v1.5M61.5 129.4v1.5M62.5 129.0v2.8M63.5 129.3v2.2M64.5 129.7v2.2M65.5 129.7v2.2M66.5 129.0v2.4M67.5 129.5v2.0M68.5 129.5v2.9M69.5 129.3v1.9M70.5 129.6v1.4M71.5 129.6v1.8M72.5 129.2v1.9M73.5 129.6v1.7M74.5 129.1v1.6M76.5 129.6v2.0M77.5 129.2v2.1M78.5 129.0v2.9M80.5 129.6v2.7M81.5 129.1v1.5M82.5 129.7v2.5M84.5 129.0v2.6M85.5 129.3v2.9M87.5 129.4v2.7M89.5 129.5v2.8M90.5 129.3v2.2M91.5 129.0v1.6M93.5 129.2v2.4M94.5 129.1v2.3M95.5 129.3v2.4M96.5 129.6v2.4M97.5 129.3v2.5M98.5 129.0v2.1M99.5 129.7v2.7M101.5 129.6v2.3M102.5 129.6v1.5M103.5 129.0v2.7M105.5 129.6v1.5M106.5 129.5v1.6M107.5 129.4v2.7M108.5 129.6v2.0M109.5 129.0v2.2M110.5 129.6v1.7M111.5 129.4v2.4M112.5 129.0v2.6M113.5 129.3v2.6M114.5 129.2v1.8M115.5 129.3v2.8M116.5 129.3v2.0M118.5 129.3v2.7M119.5 129.4v2.6M120.5 129.6v2.9M121.5 129.5v2.9M122.5 129.1v1.8M124.5 129.5v1.5M125.5 129.4v2.5M126.5 129.1v2.3M127.5 129.4v1.6M129.5 129.7v2.0M132.5 129.4v1.6M133.5 129.4v1.7M135.5 129.2v2.6M136.5 129.2v1.7M137.5 129.6v2.0M138.5 129.4v1.8M139.5 129.2v2.0M141.5 129.6v2.6M142.5 129.6v2.6M143.5 129.4v2.3M144.5 129.6v2.8M145.5 129.4v2.3M146.5 129.7v2.2M148.5 129.1v2.2M149.5 129.4v2.9M150.5 129.6v2.4M151.5 129.4v2.9M152.5 129.7v2.4M153.5 129.6v1.9M155.5 129.6v2.2M156.5 129.1v2.2M157.5 129.2v2.1M158.5 129.1v2.8M159.5 129.4v1.8M160.5 129.3v1.7M161.5 129.0v1.6M162.5 129.3v2.1M163.5 129.0v2.9M164.5 129.5v2.0M165.5 129.6v2.1M166.5 129.2v1.8M167.5 129.2v1.5M168.5 129.0v1.5M169.5 129.7v1.7M170.5 129.6v2.9M171.5 129.2v2.4M172.5 129.2v2.8M173.5 129.7v1.7M174.5 129.7v2.0M175.5 129.2v1.7M176.5 129.4v1.6M179.5 129.7v2.6M180.5 129.7v1.6M181.5 129.2v1.5M182.5 129.1v2.9M184.5 129.1v1.5M185.5 129.0v2.9M186.5 129.1v2.7M188.5 129.6v2.4M189.5 129.4v2.1M190.5 129.0v2.3M191.5 129.1v2.0M192.5 129.3v1.5M193.5 129.7v3.0M194.5 129.7v2.8M195.5 129.6v2.1M197.5 129.5v1.9M198.5 129.2v2.1M199.5 129.0v1.9M202.5 129.4v2.3M203.5 129.7v2.7M204.5 129.1v2.2M205.5 129.6v2.1M207.5 129.1v1.4M208.5 129.0v1.9M209.5 129.0v2.1M212.5 129.1v1.4M213.5 129.5v2.9M214.5 129.3v2.2M216.5 129.6v2.1M217.5 129.2v2.2M219.5 129.4v1.8M220.5 129.3v2.2M222.5 129.3v2.7M224.5 129.2v3.0M225.5 129.4v2.6M226.5 129.6v1.4M227.5 129.4v1.8M230.5 129.6v1.7M231.5 129.7v2.3M233.5 129.2v2.9M235.5 129.2v2.9M236.5 129.2v2.6M237.5 129.3v2.3M238.5 129.4v2.9M239.5 129.7v2.7M240.5 129.7v2.1M241.5 129.0v2.8M243.5 129.4v2.1M244.5 129.3v1.9M247.5 129.4v2.6M250.5 129.3v2.4M254.5 129.2v2.2M256.5 129.5v1.6M257.5 129.4v2.9M259.5 129.5v1.6M260.5 129.3v2.8M261.5 129.0v1.4M262.5 129.2v2.0M263.5 129.3v1.6M264.5 129.0v2.1M266.5 129.7v2.7M268.5 129.0v2.9M269.5 129.3v2.8M270.5 129.4v1.7M271.5 129.5v2.0M273.5 129.1v1.5M275.5 129.7v2.0M276.5 129.3v2.8M277.5 129.3v2.0M278.5 129.2v1.6M279.5 129.5v1.7M281.5 129.3v1.5M285.5 129.5v1.9M286.5 129.6v2.2M287.5 129.4v2.7M288.5 129.2v2.8M289.5 129.8v2.7M290.5 129.6v2.0M291.5 129.4v2.0M292.5 129.1v2.0M293.5 129.0v2.2M294.5 129.4v2.9M295.5 129.3v1.5M296.5 129.7v2.2M297.5 129.4v2.2M299.5 129.6v1.8M301.5 129.3v2.8M302.5 129.6v1.8M303.5 129.1v2.4M305.5 129.3v1.5M306.5 129.1v3.0M307.5 129.4v2.5M308.5 129.7v1.6M309.5 129.3v3.0M310.5 129.2v2.5M311.5 129.7v1.6M312.5 129.6v2.1M313.5 129.6v2.0M314.5 129.4v2.3M315.5 129.2v1.7M316.5 129.5v2.6M317.5 129.6v2.2M318.5 129.3v1.6M319.5 129.3v3.0M320.5 129.7v2.1M321.5 129.7v2.8M322.5 129.2v1.9M324.5 129.6v2.2M325.5 129.5v1.5M326.5 129.0v2.5M327.5 129.5v2.3M328.5 129.2v2.6M329.5 129.5v2.6M330.5 129.1v1.9M331.5 129.2v1.7M332.5 129.7v2.3M333.5 129.6v2.0M334.5 129.1v2.4M336.5 129.1v2.0M337.5 129.7v2.7M339.5 129.4v2.9M340.5 129.1v1.7M341.5 129.2v2.1M342.5 129.0v2.9M343.5 129.0v2.8M344.5 129.7v1.9M345.5 129.3v2.2M347.5 129.2v1.7M349.5 129.7v1.8M352.5 129.2v1.6M353.5 129.1v1.9M354.5 129.2v1.9M358.5 129.4v2.2M359.5 129.1v3.0M363.5 129.3v1.6M364.5 129.6v2.7M365.5 129.7v2.3M366.5 129.6v1.8M367.5 129.0v2.2M368.5 129.5v2.6M369.5 129.1v2.3M370.5 129.4v1.6M371.5 129.4v2.5M374.5 129.2v1.9M376.5 129.4v2.0M377.5 129.1v1.6M379.5 129.5v2.2M380.5 129.6v1.9M381.5 129.4v2.1M382.5 129.4v2.3M384.5 129.6v2.5M385.5 129.6v1.9M386.5 129.7v2.2M387.5 129.4v2.0M388.5 129.6v2.3M389.5 129.6v1.8M390.5 129.2v1.8M392.5 129.0v2.9M394.5 129.2v1.6M395.5 129.3v2.8M396.5 129.6v1.5M397.5 129.7v2.6M398.5 129.3v2.2M399.5 129.5v1.8M400.5 129.5v2.2M402.5 129.7v2.8M404.5 129.1v2.4M406.5 129.3v2.3M407.5 129.7v2.8M408.5 129.1v2.6M409.5 129.1v2.6M410.5 129.5v2.6M411.5 129.4v2.9M412.5 129.6v2.4M413.5 129.4v1.8M415.5 129.1v2.8M417.5 129.4v1.5" stroke="#3030d8" stroke-width="1" fill="none"/><rect x="42.5" y="12.4" width="385.0" height="131.04999999999998" fill="none" stroke="#5a5a5a" stroke-width="1.1"/><text transform="translate(39.9,146.35) scale(0.88,1)" text-anchor="end" font-size="8.5" stroke="#000" stroke-width="0.12">3.45</text><text transform="translate(39.9,133.25) scale(0.88,1)" text-anchor="end" font-size="8.5" stroke="#000" stroke-width="0.12">3.46</text><text transform="translate(39.9,120.14) scale(0.88,1)" text-anchor="end" font-size="8.5" stroke="#000" stroke-width="0.12">3.47</text><text transform="translate(39.9,107.04) scale(0.88,1)" text-anchor="end" font-size="8.5" stroke="#000" stroke-width="0.12">3.48</text><text transform="translate(39.9,93.93) scale(0.88,1)" text-anchor="end" font-size="8.5" stroke="#000" stroke-width="0.12">3.49</text><text transform="translate(39.9,80.83) scale(0.88,1)" text-anchor="end" font-size="8.5" stroke="#000" stroke-width="0.12">3.50</text><text transform="translate(39.9,67.72) scale(0.88,1)" text-anchor="end" font-size="8.5" stroke="#000" stroke-width="0.12">3.51</text><text transform="translate(39.9,54.62) scale(0.88,1)" text-anchor="end" font-size="8.5" stroke="#000" stroke-width="0.12">3.52</text><text transform="translate(39.9,41.51) scale(0.88,1)" text-anchor="end" font-size="8.5" stroke="#000" stroke-width="0.12">3.53</text><text transform="translate(39.9,28.41) scale(0.88,1)" text-anchor="end" font-size="8.5" stroke="#000" stroke-width="0.12">3.54</text><text transform="translate(39.9,15.30) scale(0.88,1)" text-anchor="end" font-size="8.5" stroke="#000" stroke-width="0.12">3.55</text><text transform="translate(42.50,152.85) scale(0.88,1)" text-anchor="middle" font-size="8.5" stroke="#000" stroke-width="0.12">0.0</text><text transform="translate(115.86,152.85) scale(0.88,1)" text-anchor="middle" font-size="8.5" stroke="#000" stroke-width="0.12">0.2</text><text transform="translate(189.22,152.85) scale(0.88,1)" text-anchor="middle" font-size="8.5" stroke="#000" stroke-width="0.12">0.4</text><text transform="translate(262.58,152.85) scale(0.88,1)" text-anchor="middle" font-size="8.5" stroke="#000" stroke-width="0.12">0.6</text><text transform="translate(335.94,152.85) scale(0.88,1)" text-anchor="middle" font-size="8.5" stroke="#000" stroke-width="0.12">0.8</text><text transform="translate(409.30,152.85) scale(0.88,1)" text-anchor="middle" font-size="8.5" stroke="#000" stroke-width="0.12">1.0</text><path d="M42.5 143.45h2.2M427.5 143.45h-2.2M42.5 136.90h1.4M427.5 136.90h-1.4M42.5 130.35h2.2M427.5 130.35h-2.2M42.5 123.79h1.4M427.5 123.79h-1.4M42.5 117.24h2.2M427.5 117.24h-2.2M42.5 110.69h1.4M427.5 110.69h-1.4M42.5 104.14h2.2M427.5 104.14h-2.2M42.5 97.58h1.4M427.5 97.58h-1.4M42.5 91.03h2.2M427.5 91.03h-2.2M42.5 84.48h1.4M427.5 84.48h-1.4M42.5 77.93h2.2M427.5 77.93h-2.2M42.5 71.37h1.4M427.5 71.37h-1.4M42.5 64.82h2.2M427.5 64.82h-2.2M42.5 58.27h1.4M427.5 58.27h-1.4M42.5 51.72h2.2M427.5 51.72h-2.2M42.5 45.16h1.4M427.5 45.16h-1.4M42.5 38.61h2.2M427.5 38.61h-2.2M42.5 32.06h1.4M427.5 32.06h-1.4M42.5 25.51h2.2M427.5 25.51h-2.2M42.5 18.95h1.4M427.5 18.95h-1.4M42.5 12.40h2.2M427.5 12.40h-2.2M42.50 143.45v-2.2M42.50 12.4v2.2M79.18 143.45v-1.4M79.18 12.4v1.4M115.86 143.45v-2.2M115.86 12.4v2.2M152.54 143.45v-1.4M152.54 12.4v1.4M189.22 143.45v-2.2M189.22 12.4v2.2M225.90 143.45v-1.4M225.90 12.4v1.4M262.58 143.45v-2.2M262.58 12.4v2.2M299.26 143.45v-1.4M299.26 12.4v1.4M335.94 143.45v-2.2M335.94 12.4v2.2M372.62 143.45v-1.4M372.62 12.4v1.4M409.30 143.45v-2.2M409.30 12.4v2.2" stroke="#5a5a5a" stroke-width="0.9" fill="none"/><rect x="42.5" y="12.4" width="224.5" height="21.9" fill="#fff" stroke="#5a5a5a" stroke-width="1"/><line x1="49.3" y1="18.3" x2="68" y2="18.3" stroke="#8080ff" stroke-width="0.9"/><line x1="49.3" y1="27.5" x2="68" y2="27.5" stroke="#808080" stroke-width="0.9"/><text transform="translate(70,20.8) scale(1,1.05)" font-size="8.6" stroke="#000" stroke-width="0.12">measured terminal voltage</text><text transform="translate(70,30.4) scale(1,1.05)" font-size="8.6" stroke="#000" stroke-width="0.12">model prediction terminal voltage (without <tspan font-style="italic">k</tspan><tspan font-style="italic" font-size="5.6" dx="0.4" dy="1.6">I</tspan><tspan dx="0.6" dy="-1.6"> correction)</tspan></text><text x="6.6" y="13.7" font-size="10.5" stroke="#000" stroke-width="0.35">(a)</text><text x="235.6" y="164.2" text-anchor="middle" font-size="8.6" stroke="#000" stroke-width="0.12">time/s</text><text transform="translate(18.9,77.8) rotate(-90)" text-anchor="middle" font-size="8.6" stroke="#000" stroke-width="0.12">voltage/V</text><g shape-rendering="crispEdges"><rect x="43" y="232.9" width="1" height="84.4" fill="#dadada"/><rect x="44" y="232.9" width="1" height="84.4" fill="#e6e6e6"/><rect x="45" y="232.9" width="1" height="84.4" fill="#dadada"/><rect x="46" y="232.9" width="1" height="84.4" fill="#c3c3c3"/><rect x="47" y="232.9" width="1" height="84.4" fill="#b5b5b5"/><rect x="48" y="232.9" width="1" height="84.4" fill="#bbbbbb"/><rect x="49" y="232.9" width="1" height="84.4" fill="#a3a3a3"/><rect x="50" y="232.9" width="1" height="84.4" fill="#888888"/><rect x="51" y="232.9" width="1" height="84.4" fill="#aaaaaa"/><rect x="52" y="232.9" width="1" height="84.4" fill="#b2b2b2"/><rect x="53" y="232.9" width="1" height="84.4" fill="#a3a3a3"/><rect x="54" y="232.9" width="1" height="84.4" fill="#919191"/><rect x="55" y="232.9" width="1" height="84.4" fill="#808080"/><rect x="56" y="232.9" width="1" height="84.4" fill="#4c4c4c"/><rect x="57" y="232.9" width="1" height="84.4" fill="#3c3c3c"/><rect x="58" y="232.9" width="1" height="84.4" fill="#6e6e6e"/><rect x="59" y="232.9" width="1" height="84.4" fill="#a3a3a3"/><rect x="60" y="232.9" width="1" height="84.4" fill="#aaaaaa"/><rect x="61" y="232.9" width="1" height="84.4" fill="#a3a3a3"/><rect x="62" y="232.9" width="1" height="84.4" fill="#919191"/><rect x="63" y="232.9" width="1" height="84.4" fill="#a3a3a3"/><rect x="64" y="232.9" width="1" height="84.4" fill="#808080"/><rect x="65" y="232.9" width="1" height="84.4" fill="#5d5d5d"/><rect x="66" y="232.9" width="1" height="84.4" fill="#919191"/><rect x="67" y="232.9" width="1" height="84.4" fill="#919191"/><rect x="68" y="232.9" width="1" height="84.4" fill="#888888"/><rect x="69" y="232.9" width="1" height="84.4" fill="#808080"/><rect x="70" y="232.9" width="1" height="84.4" fill="#6e6e6e"/><rect x="71" y="232.9" width="1" height="84.4" fill="#4c4c4c"/><rect x="72" y="232.9" width="1" height="84.4" fill="#919191"/><rect x="73" y="232.9" width="1" height="84.4" fill="#6e6e6e"/><rect x="74" y="232.9" width="1" height="84.4" fill="#3c3c3c"/><rect x="75" y="232.9" width="1" height="84.4" fill="#a3a3a3"/><rect x="76" y="232.9" width="1" height="84.4" fill="#919191"/><rect x="77" y="232.9" width="1" height="84.4" fill="#808080"/><rect x="78" y="232.9" width="1" height="84.4" fill="#5d5d5d"/><rect x="79" y="232.9" width="1" height="84.4" fill="#4c4c4c"/><rect x="80" y="232.9" width="1" height="84.4" fill="#a3a3a3"/><rect x="81" y="232.9" width="1" height="84.4" fill="#a3a3a3"/><rect x="82" y="232.9" width="1" height="84.4" fill="#919191"/><rect x="83" y="232.9" width="1" height="84.4" fill="#4c4c4c"/><rect x="84" y="232.9" width="1" height="84.4" fill="#2b2b2b"/><rect x="85" y="232.9" width="1" height="84.4" fill="#808080"/><rect x="86" y="232.9" width="1" height="84.4" fill="#aaaaaa"/><rect x="87" y="232.9" width="1" height="84.4" fill="#a3a3a3"/><rect x="88" y="232.9" width="1" height="84.4" fill="#919191"/><rect x="89" y="232.9" width="1" height="84.4" fill="#5d5d5d"/><rect x="90" y="232.9" width="1" height="84.4" fill="#a3a3a3"/><rect x="91" y="232.9" width="1" height="84.4" fill="#808080"/><rect x="92" y="232.9" width="1" height="84.4" fill="#919191"/><rect x="93" y="232.9" width="1" height="84.4" fill="#5d5d5d"/><rect x="94" y="232.9" width="1" height="84.4" fill="#808080"/><rect x="95" y="232.9" width="1" height="84.4" fill="#a3a3a3"/><rect x="96" y="232.9" width="1" height="84.4" fill="#919191"/><rect x="97" y="232.9" width="1" height="84.4" fill="#6e6e6e"/><rect x="98" y="232.9" width="1" height="84.4" fill="#4c4c4c"/><rect x="99" y="232.9" width="1" height="84.4" fill="#919191"/><rect x="100" y="232.9" width="1" height="84.4" fill="#919191"/><rect x="101" y="232.9" width="1" height="84.4" fill="#6e6e6e"/><rect x="102" y="232.9" width="1" height="84.4" fill="#5d5d5d"/><rect x="103" y="232.9" width="1" height="84.4" fill="#3c3c3c"/><rect x="104" y="232.9" width="1" height="84.4" fill="#2b2b2b"/><rect x="105" y="232.9" width="1" height="84.4" fill="#919191"/><rect x="106" y="232.9" width="1" height="84.4" fill="#a3a3a3"/><rect x="107" y="232.9" width="1" height="84.4" fill="#919191"/><rect x="108" y="232.9" width="1" height="84.4" fill="#6e6e6e"/><rect x="109" y="232.9" width="1" height="84.4" fill="#3c3c3c"/><rect x="110" y="232.9" width="1" height="84.4" fill="#808080"/><rect x="111" y="232.9" width="1" height="84.4" fill="#a3a3a3"/><rect x="112" y="232.9" width="1" height="84.4" fill="#808080"/><rect x="113" y="232.9" width="1" height="84.4" fill="#6e6e6e"/><rect x="114" y="232.9" width="1" height="84.4" fill="#a3a3a3"/><rect x="115" y="232.9" width="1" height="84.4" fill="#919191"/><rect x="116" y="232.9" width="1" height="84.4" fill="#6e6e6e"/><rect x="117" y="232.9" width="1" height="84.4" fill="#5d5d5d"/><rect x="118" y="232.9" width="1" height="84.4" fill="#4c4c4c"/><rect x="119" y="232.9" width="1" height="84.4" fill="#3c3c3c"/><rect x="120" y="232.9" width="1" height="84.4" fill="#919191"/><rect x="121" y="232.9" width="1" height="84.4" fill="#808080"/><rect x="122" y="232.9" width="1" height="84.4" fill="#6e6e6e"/><rect x="123" y="232.9" width="1" height="84.4" fill="#808080"/><rect x="124" y="232.9" width="1" height="84.4" fill="#919191"/><rect x="125" y="232.9" width="1" height="84.4" fill="#808080"/><rect x="126" y="232.9" width="1" height="84.4" fill="#6e6e6e"/><rect x="127" y="232.9" width="1" height="84.4" fill="#5d5d5d"/><rect x="128" y="232.9" width="1" height="84.4" fill="#2b2b2b"/><rect x="129" y="232.9" width="1" height="84.4" fill="#0d0d0d"/><rect x="130" y="232.9" width="1" height="84.4" fill="#a3a3a3"/><rect x="131" y="232.9" width="1" height="84.4" fill="#bbbbbb"/><rect x="132" y="232.9" width="1" height="84.4" fill="#c3c3c3"/><rect x="133" y="232.9" width="1" height="84.4" fill="#b5b5b5"/><rect x="134" y="232.9" width="1" height="84.4" fill="#919191"/><rect x="135" y="232.9" width="1" height="84.4" fill="#a3a3a3"/><rect x="136" y="232.9" width="1" height="84.4" fill="#808080"/><rect x="137" y="232.9" width="1" height="84.4" fill="#3c3c3c"/><rect x="138" y="232.9" width="1" height="84.4" fill="#919191"/><rect x="139" y="232.9" width="1" height="84.4" fill="#a3a3a3"/><rect x="140" y="232.9" width="1" height="84.4" fill="#919191"/><rect x="141" y="232.9" width="1" height="84.4" fill="#808080"/><rect x="142" y="232.9" width="1" height="84.4" fill="#5d5d5d"/><rect x="143" y="232.9" width="1" height="84.4" fill="#4c4c4c"/><rect x="144" y="232.9" width="1" height="84.4" fill="#5d5d5d"/><rect x="145" y="232.9" width="1" height="84.4" fill="#6e6e6e"/><rect x="146" y="232.9" width="1" height="84.4" fill="#4c4c4c"/><rect x="147" y="232.9" width="1" height="84.4" fill="#5d5d5d"/><rect x="148" y="232.9" width="1" height="84.4" fill="#919191"/><rect x="149" y="232.9" width="1" height="84.4" fill="#a3a3a3"/><rect x="150" y="232.9" width="1" height="84.4" fill="#5d5d5d"/><rect x="151" y="232.9" width="1" height="84.4" fill="#4c4c4c"/><rect x="152" y="232.9" width="1" height="84.4" fill="#5d5d5d"/><rect x="153" y="232.9" width="1" height="84.4" fill="#808080"/><rect x="154" y="232.9" width="1" height="84.4" fill="#919191"/><rect x="155" y="232.9" width="1" height="84.4" fill="#6e6e6e"/><rect x="156" y="232.9" width="1" height="84.4" fill="#4c4c4c"/><rect x="157" y="232.9" width="1" height="84.4" fill="#6e6e6e"/><rect x="158" y="232.9" width="1" height="84.4" fill="#919191"/><rect x="159" y="232.9" width="1" height="84.4" fill="#808080"/><rect x="160" y="232.9" width="1" height="84.4" fill="#a3a3a3"/><rect x="161" y="232.9" width="1" height="84.4" fill="#919191"/><rect x="162" y="232.9" width="1" height="84.4" fill="#808080"/><rect x="163" y="232.9" width="1" height="84.4" fill="#3c3c3c"/><rect x="164" y="232.9" width="1" height="84.4" fill="#2b2b2b"/><rect x="165" y="232.9" width="1" height="84.4" fill="#6e6e6e"/><rect x="166" y="232.9" width="1" height="84.4" fill="#919191"/><rect x="167" y="232.9" width="1" height="84.4" fill="#c3c3c3"/><rect x="168" y="232.9" width="1" height="84.4" fill="#b5b5b5"/><rect x="169" y="232.9" width="1" height="84.4" fill="#6e6e6e"/><rect x="170" y="232.9" width="1" height="84.4" fill="#3c3c3c"/><rect x="171" y="232.9" width="1" height="84.4" fill="#6e6e6e"/><rect x="172" y="232.9" width="1" height="84.4" fill="#919191"/><rect x="173" y="232.9" width="1" height="84.4" fill="#6e6e6e"/><rect x="174" y="232.9" width="1" height="84.4" fill="#4c4c4c"/><rect x="175" y="232.9" width="1" height="84.4" fill="#808080"/><rect x="176" y="232.9" width="1" height="84.4" fill="#919191"/><rect x="177" y="232.9" width="1" height="84.4" fill="#808080"/><rect x="178" y="232.9" width="1" height="84.4" fill="#5d5d5d"/><rect x="179" y="232.9" width="1" height="84.4" fill="#6e6e6e"/><rect x="180" y="232.9" width="1" height="84.4" fill="#919191"/><rect x="181" y="232.9" width="1" height="84.4" fill="#a3a3a3"/><rect x="182" y="232.9" width="1" height="84.4" fill="#919191"/><rect x="183" y="232.9" width="1" height="84.4" fill="#4c4c4c"/><rect x="184" y="232.9" width="1" height="84.4" fill="#1c1c1c"/><rect x="185" y="232.9" width="1" height="84.4" fill="#6e6e6e"/><rect x="186" y="232.9" width="1" height="84.4" fill="#a3a3a3"/><rect x="187" y="232.9" width="1" height="84.4" fill="#919191"/><rect x="188" y="232.9" width="1" height="84.4" fill="#808080"/><rect x="189" y="232.9" width="1" height="84.4" fill="#5d5d5d"/><rect x="190" y="232.9" width="1" height="84.4" fill="#2b2b2b"/><rect x="191" y="232.9" width="1" height="84.4" fill="#6e6e6e"/><rect x="192" y="232.9" width="1" height="84.4" fill="#808080"/><rect x="193" y="232.9" width="1" height="84.4" fill="#5d5d5d"/><rect x="194" y="232.9" width="1" height="84.4" fill="#6e6e6e"/><rect x="195" y="232.9" width="1" height="84.4" fill="#808080"/><rect x="196" y="232.9" width="1" height="84.4" fill="#919191"/><rect x="197" y="232.9" width="1" height="84.4" fill="#6e6e6e"/><rect x="198" y="232.9" width="1" height="84.4" fill="#4c4c4c"/><rect x="199" y="232.9" width="1" height="84.4" fill="#6e6e6e"/><rect x="200" y="232.9" width="1" height="84.4" fill="#919191"/><rect x="201" y="232.9" width="1" height="84.4" fill="#808080"/><rect x="202" y="232.9" width="1" height="84.4" fill="#4c4c4c"/><rect x="203" y="232.9" width="1" height="84.4" fill="#6e6e6e"/><rect x="204" y="232.9" width="1" height="84.4" fill="#3c3c3c"/><rect x="205" y="232.9" width="1" height="84.4" fill="#0d0d0d"/><rect x="206" y="232.9" width="1" height="84.4" fill="#b5b5b5"/><rect x="207" y="232.9" width="1" height="84.4" fill="#bbbbbb"/><rect x="208" y="232.9" width="1" height="84.4" fill="#a3a3a3"/><rect x="209" y="232.9" width="1" height="84.4" fill="#919191"/><rect x="210" y="232.9" width="1" height="84.4" fill="#a3a3a3"/><rect x="211" y="232.9" width="1" height="84.4" fill="#808080"/><rect x="212" y="232.9" width="1" height="84.4" fill="#4c4c4c"/><rect x="213" y="232.9" width="1" height="84.4" fill="#2b2b2b"/><rect x="214" y="232.9" width="1" height="84.4" fill="#808080"/><rect x="215" y="232.9" width="1" height="84.4" fill="#c7c7c7"/><rect x="216" y="232.9" width="1" height="84.4" fill="#dadada"/><rect x="217" y="232.9" width="1" height="84.4" fill="#b5b5b5"/><rect x="218" y="232.9" width="1" height="84.4" fill="#c7c7c7"/><rect x="219" y="232.9" width="1" height="84.4" fill="#a3a3a3"/><rect x="220" y="232.9" width="1" height="84.4" fill="#919191"/><rect x="221" y="232.9" width="1" height="84.4" fill="#808080"/><rect x="222" y="232.9" width="1" height="84.4" fill="#919191"/><rect x="223" y="232.9" width="1" height="84.4" fill="#808080"/><rect x="224" y="232.9" width="1" height="84.4" fill="#919191"/><rect x="225" y="232.9" width="1" height="84.4" fill="#808080"/><rect x="226" y="232.9" width="1" height="84.4" fill="#808080"/><rect x="227" y="232.9" width="1" height="84.4" fill="#919191"/><rect x="228" y="232.9" width="1" height="84.4" fill="#919191"/><rect x="229" y="232.9" width="1" height="84.4" fill="#6e6e6e"/><rect x="230" y="232.9" width="1" height="84.4" fill="#0d0d0d"/><rect x="231" y="232.9" width="1" height="84.4" fill="#808080"/><rect x="232" y="232.9" width="1" height="84.4" fill="#c7c7c7"/><rect x="233" y="232.9" width="1" height="84.4" fill="#b5b5b5"/><rect x="234" y="232.9" width="1" height="84.4" fill="#a3a3a3"/><rect x="235" y="232.9" width="1" height="84.4" fill="#919191"/><rect x="236" y="232.9" width="1" height="84.4" fill="#919191"/><rect x="237" y="232.9" width="1" height="84.4" fill="#a3a3a3"/><rect x="238" y="232.9" width="1" height="84.4" fill="#4c4c4c"/><rect x="239" y="232.9" width="1" height="84.4" fill="#0d0d0d"/><rect x="240" y="232.9" width="1" height="84.4" fill="#a3a3a3"/><rect x="241" y="232.9" width="1" height="84.4" fill="#919191"/><rect x="242" y="232.9" width="1" height="84.4" fill="#919191"/><rect x="243" y="232.9" width="1" height="84.4" fill="#a3a3a3"/><rect x="244" y="232.9" width="1" height="84.4" fill="#808080"/><rect x="245" y="232.9" width="1" height="84.4" fill="#4c4c4c"/><rect x="246" y="232.9" width="1" height="84.4" fill="#6e6e6e"/><rect x="247" y="232.9" width="1" height="84.4" fill="#919191"/><rect x="248" y="232.9" width="1" height="84.4" fill="#808080"/><rect x="249" y="232.9" width="1" height="84.4" fill="#6e6e6e"/><rect x="250" y="232.9" width="1" height="84.4" fill="#808080"/><rect x="251" y="232.9" width="1" height="84.4" fill="#5d5d5d"/><rect x="252" y="232.9" width="1" height="84.4" fill="#2b2b2b"/><rect x="253" y="232.9" width="1" height="84.4" fill="#808080"/><rect x="254" y="232.9" width="1" height="84.4" fill="#919191"/><rect x="255" y="232.9" width="1" height="84.4" fill="#a3a3a3"/><rect x="256" y="232.9" width="1" height="84.4" fill="#919191"/><rect x="257" y="232.9" width="1" height="84.4" fill="#808080"/><rect x="258" y="232.9" width="1" height="84.4" fill="#919191"/><rect x="259" y="232.9" width="1" height="84.4" fill="#919191"/><rect x="260" y="232.9" width="1" height="84.4" fill="#808080"/><rect x="261" y="232.9" width="1" height="84.4" fill="#4c4c4c"/><rect x="262" y="232.9" width="1" height="84.4" fill="#5d5d5d"/><rect x="263" y="232.9" width="1" height="84.4" fill="#919191"/><rect x="264" y="232.9" width="1" height="84.4" fill="#808080"/><rect x="265" y="232.9" width="1" height="84.4" fill="#6e6e6e"/><rect x="266" y="232.9" width="1" height="84.4" fill="#5d5d5d"/><rect x="267" y="232.9" width="1" height="84.4" fill="#5d5d5d"/><rect x="268" y="232.9" width="1" height="84.4" fill="#4c4c4c"/><rect x="269" y="232.9" width="1" height="84.4" fill="#6e6e6e"/><rect x="270" y="232.9" width="1" height="84.4" fill="#919191"/><rect x="271" y="232.9" width="1" height="84.4" fill="#808080"/><rect x="272" y="232.9" width="1" height="84.4" fill="#6e6e6e"/><rect x="273" y="232.9" width="1" height="84.4" fill="#3c3c3c"/><rect x="274" y="232.9" width="1" height="84.4" fill="#2b2b2b"/><rect x="275" y="232.9" width="1" height="84.4" fill="#b5b5b5"/><rect x="276" y="232.9" width="1" height="84.4" fill="#bbbbbb"/><rect x="277" y="232.9" width="1" height="84.4" fill="#a3a3a3"/><rect x="278" y="232.9" width="1" height="84.4" fill="#6e6e6e"/><rect x="279" y="232.9" width="1" height="84.4" fill="#808080"/><rect x="280" y="232.9" width="1" height="84.4" fill="#4c4c4c"/><rect x="281" y="232.9" width="1" height="84.4" fill="#919191"/><rect x="282" y="232.9" width="1" height="84.4" fill="#808080"/><rect x="283" y="232.9" width="1" height="84.4" fill="#4c4c4c"/><rect x="284" y="232.9" width="1" height="84.4" fill="#6e6e6e"/><rect x="285" y="232.9" width="1" height="84.4" fill="#919191"/><rect x="286" y="232.9" width="1" height="84.4" fill="#808080"/><rect x="287" y="232.9" width="1" height="84.4" fill="#919191"/><rect x="288" y="232.9" width="1" height="84.4" fill="#3c3c3c"/><rect x="289" y="232.9" width="1" height="84.4" fill="#1c1c1c"/><rect x="290" y="232.9" width="1" height="84.4" fill="#919191"/><rect x="291" y="232.9" width="1" height="84.4" fill="#a3a3a3"/><rect x="292" y="232.9" width="1" height="84.4" fill="#a3a3a3"/><rect x="293" y="232.9" width="1" height="84.4" fill="#919191"/><rect x="294" y="232.9" width="1" height="84.4" fill="#808080"/><rect x="295" y="232.9" width="1" height="84.4" fill="#5d5d5d"/><rect x="296" y="232.9" width="1" height="84.4" fill="#919191"/><rect x="297" y="232.9" width="1" height="84.4" fill="#b5b5b5"/><rect x="298" y="232.9" width="1" height="84.4" fill="#6e6e6e"/><rect x="299" y="232.9" width="1" height="84.4" fill="#4c4c4c"/><rect x="300" y="232.9" width="1" height="84.4" fill="#808080"/><rect x="301" y="232.9" width="1" height="84.4" fill="#6e6e6e"/><rect x="302" y="232.9" width="1" height="84.4" fill="#3c3c3c"/><rect x="303" y="232.9" width="1" height="84.4" fill="#919191"/><rect x="304" y="232.9" width="1" height="84.4" fill="#808080"/><rect x="305" y="232.9" width="1" height="84.4" fill="#4c4c4c"/><rect x="306" y="232.9" width="1" height="84.4" fill="#b5b5b5"/><rect x="307" y="232.9" width="1" height="84.4" fill="#919191"/><rect x="308" y="232.9" width="1" height="84.4" fill="#5d5d5d"/><rect x="309" y="232.9" width="1" height="84.4" fill="#4c4c4c"/><rect x="310" y="232.9" width="1" height="84.4" fill="#4c4c4c"/><rect x="311" y="232.9" width="1" height="84.4" fill="#3c3c3c"/><rect x="312" y="232.9" width="1" height="84.4" fill="#2b2b2b"/><rect x="313" y="232.9" width="1" height="84.4" fill="#b5b5b5"/><rect x="314" y="232.9" width="1" height="84.4" fill="#a3a3a3"/><rect x="315" y="232.9" width="1" height="84.4" fill="#919191"/><rect x="316" y="232.9" width="1" height="84.4" fill="#808080"/><rect x="317" y="232.9" width="1" height="84.4" fill="#c7c7c7"/><rect x="318" y="232.9" width="1" height="84.4" fill="#b5b5b5"/><rect x="319" y="232.9" width="1" height="84.4" fill="#919191"/><rect x="320" y="232.9" width="1" height="84.4" fill="#808080"/><rect x="321" y="232.9" width="1" height="84.4" fill="#6e6e6e"/><rect x="322" y="232.9" width="1" height="84.4" fill="#808080"/><rect x="323" y="232.9" width="1" height="84.4" fill="#4c4c4c"/><rect x="324" y="232.9" width="1" height="84.4" fill="#3c3c3c"/><rect x="325" y="232.9" width="1" height="84.4" fill="#919191"/><rect x="326" y="232.9" width="1" height="84.4" fill="#b5b5b5"/><rect x="327" y="232.9" width="1" height="84.4" fill="#a3a3a3"/><rect x="328" y="232.9" width="1" height="84.4" fill="#6e6e6e"/><rect x="329" y="232.9" width="1" height="84.4" fill="#4c4c4c"/><rect x="330" y="232.9" width="1" height="84.4" fill="#a3a3a3"/><rect x="331" y="232.9" width="1" height="84.4" fill="#919191"/><rect x="332" y="232.9" width="1" height="84.4" fill="#808080"/><rect x="333" y="232.9" width="1" height="84.4" fill="#919191"/><rect x="334" y="232.9" width="1" height="84.4" fill="#6e6e6e"/><rect x="335" y="232.9" width="1" height="84.4" fill="#4c4c4c"/><rect x="336" y="232.9" width="1" height="84.4" fill="#2b2b2b"/><rect x="337" y="232.9" width="1" height="84.4" fill="#919191"/><rect x="338" y="232.9" width="1" height="84.4" fill="#808080"/><rect x="339" y="232.9" width="1" height="84.4" fill="#5d5d5d"/><rect x="340" y="232.9" width="1" height="84.4" fill="#4c4c4c"/><rect x="341" y="232.9" width="1" height="84.4" fill="#3c3c3c"/><rect x="342" y="232.9" width="1" height="84.4" fill="#808080"/><rect x="343" y="232.9" width="1" height="84.4" fill="#6e6e6e"/><rect x="344" y="232.9" width="1" height="84.4" fill="#919191"/><rect x="345" y="232.9" width="1" height="84.4" fill="#a3a3a3"/><rect x="346" y="232.9" width="1" height="84.4" fill="#5d5d5d"/><rect x="347" y="232.9" width="1" height="84.4" fill="#919191"/><rect x="348" y="232.9" width="1" height="84.4" fill="#b5b5b5"/><rect x="349" y="232.9" width="1" height="84.4" fill="#a3a3a3"/><rect x="350" y="232.9" width="1" height="84.4" fill="#808080"/><rect x="351" y="232.9" width="1" height="84.4" fill="#919191"/><rect x="352" y="232.9" width="1" height="84.4" fill="#6e6e6e"/><rect x="353" y="232.9" width="1" height="84.4" fill="#3c3c3c"/><rect x="354" y="232.9" width="1" height="84.4" fill="#0d0d0d"/><rect x="355" y="232.9" width="1" height="84.4" fill="#808080"/><rect x="356" y="232.9" width="1" height="84.4" fill="#a3a3a3"/><rect x="357" y="232.9" width="1" height="84.4" fill="#919191"/><rect x="358" y="232.9" width="1" height="84.4" fill="#808080"/><rect x="359" y="232.9" width="1" height="84.4" fill="#919191"/><rect x="360" y="232.9" width="1" height="84.4" fill="#919191"/><rect x="361" y="232.9" width="1" height="84.4" fill="#808080"/><rect x="362" y="232.9" width="1" height="84.4" fill="#6e6e6e"/><rect x="363" y="232.9" width="1" height="84.4" fill="#808080"/><rect x="364" y="232.9" width="1" height="84.4" fill="#919191"/><rect x="365" y="232.9" width="1" height="84.4" fill="#5d5d5d"/><rect x="366" y="232.9" width="1" height="84.4" fill="#1c1c1c"/><rect x="367" y="232.9" width="1" height="84.4" fill="#c7c7c7"/><rect x="368" y="232.9" width="1" height="84.4" fill="#b5b5b5"/><rect x="369" y="232.9" width="1" height="84.4" fill="#a3a3a3"/><rect x="370" y="232.9" width="1" height="84.4" fill="#919191"/><rect x="371" y="232.9" width="1" height="84.4" fill="#a3a3a3"/><rect x="372" y="232.9" width="1" height="84.4" fill="#a3a3a3"/><rect x="373" y="232.9" width="1" height="84.4" fill="#919191"/><rect x="374" y="232.9" width="1" height="84.4" fill="#6e6e6e"/><rect x="375" y="232.9" width="1" height="84.4" fill="#919191"/><rect x="376" y="232.9" width="1" height="84.4" fill="#6e6e6e"/><rect x="377" y="232.9" width="1" height="84.4" fill="#4c4c4c"/><rect x="378" y="232.9" width="1" height="84.4" fill="#5d5d5d"/><rect x="379" y="232.9" width="1" height="84.4" fill="#6e6e6e"/><rect x="380" y="232.9" width="1" height="84.4" fill="#5d5d5d"/><rect x="381" y="232.9" width="1" height="84.4" fill="#4c4c4c"/><rect x="382" y="232.9" width="1" height="84.4" fill="#5d5d5d"/><rect x="383" y="232.9" width="1" height="84.4" fill="#919191"/><rect x="384" y="232.9" width="1" height="84.4" fill="#a3a3a3"/><rect x="385" y="232.9" width="1" height="84.4" fill="#919191"/><rect x="386" y="232.9" width="1" height="84.4" fill="#808080"/><rect x="387" y="232.9" width="1" height="84.4" fill="#919191"/><rect x="388" y="232.9" width="1" height="84.4" fill="#6e6e6e"/><rect x="389" y="232.9" width="1" height="84.4" fill="#4c4c4c"/><rect x="390" y="232.9" width="1" height="84.4" fill="#919191"/><rect x="391" y="232.9" width="1" height="84.4" fill="#a3a3a3"/><rect x="392" y="232.9" width="1" height="84.4" fill="#5d5d5d"/><rect x="393" y="232.9" width="1" height="84.4" fill="#808080"/><rect x="394" y="232.9" width="1" height="84.4" fill="#b5b5b5"/><rect x="395" y="232.9" width="1" height="84.4" fill="#a3a3a3"/><rect x="396" y="232.9" width="1" height="84.4" fill="#919191"/><rect x="397" y="232.9" width="1" height="84.4" fill="#6e6e6e"/><rect x="398" y="232.9" width="1" height="84.4" fill="#3c3c3c"/><rect x="399" y="232.9" width="1" height="84.4" fill="#6e6e6e"/><rect x="400" y="232.9" width="1" height="84.4" fill="#919191"/><rect x="401" y="232.9" width="1" height="84.4" fill="#a3a3a3"/><rect x="402" y="232.9" width="1" height="84.4" fill="#919191"/><rect x="403" y="232.9" width="1" height="84.4" fill="#3c3c3c"/><rect x="404" y="232.9" width="1" height="84.4" fill="#2b2b2b"/><rect x="405" y="232.9" width="1" height="84.4" fill="#808080"/><rect x="406" y="232.9" width="1" height="84.4" fill="#919191"/><rect x="407" y="232.9" width="1" height="84.4" fill="#6e6e6e"/><rect x="408" y="232.9" width="1" height="84.4" fill="#4c4c4c"/><rect x="409" y="232.9" width="1" height="84.4" fill="#808080"/><rect x="410" y="232.9" width="1" height="84.4" fill="#919191"/><rect x="411" y="232.9" width="1" height="84.4" fill="#6e6e6e"/><rect x="412" y="232.9" width="1" height="84.4" fill="#4c4c4c"/><rect x="413" y="232.9" width="1" height="84.4" fill="#808080"/><rect x="414" y="232.9" width="1" height="84.4" fill="#6e6e6e"/><rect x="415" y="232.9" width="1" height="84.4" fill="#3c3c3c"/><rect x="416" y="232.9" width="1" height="84.4" fill="#4c4c4c"/><rect x="417" y="232.9" width="1" height="84.4" fill="#1c1c1c"/></g><path d="M43.5 231.8v1.5M44.5 231.2v1.4M46.5 231.2v1.7M49.5 231.1v1.6M50.5 231.1v2.2M52.5 232.1v1.5M53.5 231.1v2.2M54.5 232.5v2.2M58.5 231.3v1.6M60.5 232.2v2.2M61.5 231.0v1.4M62.5 232.0v1.9M63.5 231.0v2.3M64.5 231.7v1.8M65.5 231.5v1.3M66.5 232.7v1.6M67.5 232.6v1.9M68.5 231.4v1.0M69.5 231.9v1.8M70.5 231.7v1.4M71.5 231.4v1.4M72.5 232.0v2.0M74.5 231.6v2.2M75.5 232.4v2.1M76.5 232.2v2.1M77.5 232.2v2.1M78.5 232.0v2.3M80.5 231.0v2.3M81.5 231.8v1.4M82.5 232.2v2.1M85.5 232.2v1.9M86.5 232.1v1.4M87.5 231.3v1.5M88.5 231.3v2.3M90.5 232.3v1.4M92.5 232.6v2.4M93.5 231.8v1.4M94.5 232.1v1.3M95.5 232.1v1.1M97.5 232.1v1.7M98.5 232.3v1.8M99.5 231.2v2.3M100.5 231.9v1.2M101.5 231.2v2.1M102.5 231.7v1.0M103.5 232.6v2.2M104.5 231.2v1.9M107.5 231.1v1.1M108.5 232.4v1.3M109.5 232.0v1.5M111.5 231.4v1.9M114.5 232.3v1.3M115.5 231.0v1.4M116.5 232.3v1.3M117.5 232.1v1.5M118.5 231.0v1.7M121.5 232.3v1.3M123.5 231.5v2.2M124.5 231.2v1.4M125.5 231.2v1.4M126.5 232.1v1.6M128.5 231.6v1.2M131.5 231.5v1.9M132.5 231.4v2.3M133.5 232.1v2.0M134.5 231.6v1.3M135.5 232.5v2.3M136.5 231.7v1.9M137.5 231.5v2.1M138.5 232.1v2.2M140.5 231.4v1.5M141.5 232.3v1.1M142.5 232.4v1.6M143.5 232.5v1.6M144.5 232.3v2.1M146.5 231.0v2.0M147.5 231.4v1.0M148.5 231.9v1.7M149.5 231.8v1.9M151.5 232.1v1.3M152.5 231.2v2.0M156.5 232.7v1.1M157.5 231.8v1.6M159.5 232.1v1.5M160.5 232.4v2.1M161.5 232.4v1.6M162.5 231.9v1.1M163.5 232.7v1.6M164.5 232.6v1.7M165.5 232.7v2.0M168.5 231.0v1.8M169.5 232.7v1.1M173.5 232.0v1.5M174.5 231.4v2.2M175.5 232.3v2.1M176.5 231.7v2.0M177.5 232.7v1.7M178.5 232.6v1.3M179.5 231.2v2.2M180.5 232.1v1.1M181.5 232.6v1.1M182.5 231.6v1.8M183.5 231.7v1.6M184.5 231.3v1.7M186.5 231.1v1.1M187.5 231.6v2.1M188.5 231.7v1.6M190.5 232.6v1.5M191.5 232.0v1.9M193.5 232.5v2.3M194.5 231.1v1.8M197.5 231.1v1.3M198.5 231.6v1.1M199.5 231.4v2.0M200.5 232.6v1.2M201.5 231.0v2.4M202.5 232.5v1.4M203.5 231.2v1.4M204.5 232.3v2.1M205.5 232.5v1.1M208.5 232.1v1.1M209.5 231.3v1.6M210.5 231.5v2.3M211.5 232.5v2.1M212.5 231.3v1.8M213.5 231.1v2.3M215.5 232.4v2.0M216.5 232.0v1.5M218.5 231.2v2.2M219.5 232.7v1.8M220.5 231.1v1.1M222.5 232.4v2.3M223.5 232.3v2.3M224.5 232.0v1.4M225.5 232.3v1.3M227.5 231.0v1.1M228.5 232.7v1.3M229.5 231.1v1.2M230.5 231.6v1.2M231.5 231.3v2.2M232.5 232.6v1.5M233.5 232.5v1.2M234.5 232.4v2.3M236.5 231.5v1.4M238.5 231.8v2.2M240.5 232.3v1.3M243.5 231.8v2.1M244.5 231.7v1.5M245.5 231.7v2.4M247.5 231.0v1.4M248.5 231.6v1.4M249.5 231.9v1.7M251.5 232.0v2.2M252.5 231.2v1.5M253.5 232.4v1.8M254.5 231.2v2.0M255.5 232.1v1.9M256.5 232.5v1.3M257.5 232.2v1.4M258.5 231.4v2.2M261.5 232.4v2.2M262.5 232.7v2.2M263.5 232.0v1.9M266.5 232.7v1.7M267.5 232.0v1.8M268.5 232.0v1.1M269.5 231.7v1.1M270.5 232.2v2.4M271.5 231.1v1.2M274.5 232.2v1.3M275.5 231.3v2.3M276.5 232.4v1.1M278.5 232.3v1.4M279.5 232.0v1.8M280.5 231.7v1.2M281.5 231.8v1.8M283.5 231.7v1.4M284.5 232.3v2.1M285.5 231.0v1.7M286.5 231.7v1.2M287.5 231.2v1.6M288.5 232.6v2.1M290.5 232.2v1.0M291.5 231.7v1.3M292.5 231.8v1.4M293.5 232.0v1.8M294.5 231.8v1.2M296.5 232.2v2.3M297.5 232.3v2.3M298.5 232.3v2.4M299.5 231.1v1.1M300.5 231.0v1.5M301.5 231.5v1.4M302.5 231.8v2.0M303.5 231.7v1.5M304.5 231.4v1.7M306.5 231.4v2.3M307.5 231.9v2.0M308.5 232.5v1.2M309.5 232.6v2.1M310.5 232.3v2.0M311.5 232.7v1.7M313.5 232.2v1.3M314.5 232.0v1.1M315.5 232.2v1.0M316.5 232.3v2.1M317.5 232.0v1.4M318.5 231.1v1.8M320.5 231.8v1.7M321.5 231.9v1.0M322.5 231.5v1.4M323.5 231.6v1.1M324.5 231.0v1.3M326.5 231.8v2.3M328.5 231.9v1.8M329.5 231.9v1.4M331.5 232.3v1.8M332.5 232.4v1.7M333.5 232.0v1.1M334.5 232.3v1.3M335.5 231.4v1.1M336.5 232.1v1.7M337.5 231.5v2.3M338.5 231.0v1.2M340.5 231.2v2.3M343.5 232.1v2.4M344.5 232.3v2.3M345.5 232.4v1.8M346.5 231.2v2.3M348.5 231.0v2.3M349.5 232.5v1.6M350.5 231.0v1.3M351.5 231.6v1.1M352.5 232.1v1.9M353.5 232.7v2.2M354.5 232.2v1.8M355.5 231.3v1.6M356.5 232.5v1.2M357.5 232.1v1.7M358.5 232.1v1.5M359.5 231.9v1.7M360.5 231.2v1.2M361.5 232.6v1.8M366.5 231.1v1.1M367.5 232.7v1.3M369.5 231.4v2.0M372.5 231.4v2.1M373.5 232.3v1.2M374.5 232.0v1.7M376.5 232.6v2.3M378.5 231.7v1.5M379.5 231.9v1.9M380.5 231.9v2.2M382.5 232.4v1.4M383.5 232.4v1.3M384.5 231.7v1.4M385.5 232.0v1.7M386.5 231.6v1.8M387.5 232.6v1.8M388.5 232.7v1.2M389.5 231.5v1.9M392.5 232.5v1.6M394.5 231.6v2.4M395.5 231.3v1.1M397.5 232.1v1.6M399.5 231.3v1.5M401.5 231.7v1.7M403.5 231.3v2.2M405.5 231.4v1.8M406.5 232.2v2.3M407.5 231.6v1.7M410.5 232.1v1.8M412.5 231.7v2.2M413.5 232.2v1.9M415.5 231.4v1.5M417.5 231.3v1.0" stroke="#2828b0" stroke-width="1" fill="none"/><path d="M43.5 317.7v1.5M44.5 318.0v2.2M45.5 317.7v1.6M46.5 317.7v1.5M47.5 317.4v1.4M48.5 317.7v2.8M50.5 317.3v1.7M51.5 317.7v1.9M52.5 317.6v2.8M55.5 317.7v1.7M56.5 317.4v1.5M58.5 317.4v2.6M59.5 317.7v1.5M61.5 317.6v1.5M62.5 317.2v2.8M63.5 317.5v2.2M64.5 317.9v2.2M65.5 317.9v2.2M66.5 317.2v2.4M67.5 317.7v2.0M68.5 317.7v2.9M69.5 317.5v1.9M70.5 317.8v1.4M71.5 317.8v1.8M72.5 317.4v1.9M73.5 317.8v1.7M74.5 317.3v1.6M76.5 317.8v2.0M77.5 317.4v2.1M78.5 317.2v2.9M80.5 317.8v2.7M81.5 317.3v1.5M82.5 317.9v2.5M84.5 317.2v2.6M85.5 317.5v2.9M87.5 317.6v2.7M89.5 317.7v2.8M90.5 317.5v2.2M91.5 317.2v1.6M93.5 317.4v2.4M94.5 317.3v2.3M95.5 317.5v2.4M96.5 317.8v2.4M97.5 317.5v2.5M98.5 317.2v2.1M99.5 317.9v2.7M101.5 317.8v2.3M102.5 317.8v1.5M103.5 317.2v2.7M105.5 317.8v1.5M106.5 317.7v1.6M107.5 317.6v2.7M108.5 317.8v2.0M109.5 317.2v2.2M110.5 317.8v1.7M111.5 317.6v2.4M112.5 317.2v2.6M113.5 317.5v2.6M114.5 317.4v1.8M115.5 317.5v2.8M116.5 317.5v2.0M118.5 317.5v2.7M119.5 317.6v2.6M120.5 317.8v2.9M121.5 317.7v2.9M122.5 317.3v1.8M124.5 317.7v1.5M125.5 317.6v2.5M126.5 317.3v2.3M127.5 317.6v1.6M129.5 317.9v2.0M132.5 317.6v1.6M133.5 317.6v1.7M135.5 317.4v2.6M136.5 317.4v1.7M137.5 317.8v2.0M138.5 317.6v1.8M139.5 317.4v2.0M141.5 317.8v2.6M142.5 317.8v2.6M143.5 317.6v2.3M144.5 317.8v2.8M145.5 317.6v2.3M146.5 317.9v2.2M148.5 317.3v2.2M149.5 317.6v2.9M150.5 317.8v2.4M151.5 317.6v2.9M152.5 317.9v2.4M153.5 317.8v1.9M155.5 317.8v2.2M156.5 317.3v2.2M157.5 317.4v2.1M158.5 317.3v2.8M159.5 317.6v1.8M160.5 317.5v1.7M161.5 317.2v1.6M162.5 317.5v2.1M163.5 317.2v2.9M164.5 317.7v2.0M165.5 317.8v2.1M166.5 317.4v1.8M167.5 317.4v1.5M168.5 317.2v1.5M169.5 317.9v1.7M170.5 317.8v2.9M171.5 317.4v2.4M172.5 317.4v2.8M173.5 317.9v1.7M174.5 317.9v2.0M175.5 317.4v1.7M176.5 317.6v1.6M179.5 317.9v2.6M180.5 317.9v1.6M181.5 317.4v1.5M182.5 317.3v2.9M184.5 317.3v1.5M185.5 317.2v2.9M186.5 317.3v2.7M188.5 317.8v2.4M189.5 317.6v2.1M190.5 317.2v2.3M191.5 317.3v2.0M192.5 317.5v1.5M193.5 317.9v3.0M194.5 317.9v2.8M195.5 317.8v2.1M197.5 317.7v1.9M198.5 317.4v2.1M199.5 317.2v1.9M202.5 317.6v2.3M203.5 317.9v2.7M204.5 317.3v2.2M205.5 317.8v2.1M207.5 317.3v1.4M208.5 317.2v1.9M209.5 317.2v2.1M212.5 317.3v1.4M213.5 317.7v2.9M214.5 317.5v2.2M216.5 317.8v2.1M217.5 317.4v2.2M219.5 317.6v1.8M220.5 317.5v2.2M222.5 317.5v2.7M224.5 317.4v3.0M225.5 317.6v2.6M226.5 317.8v1.4M227.5 317.6v1.8M230.5 317.8v1.7M231.5 317.9v2.3M233.5 317.4v2.9M235.5 317.4v2.9M236.5 317.4v2.6M237.5 317.5v2.3M238.5 317.6v2.9M239.5 317.9v2.7M240.5 317.9v2.1M241.5 317.2v2.8M243.5 317.6v2.1M244.5 317.5v1.9M247.5 317.6v2.6M250.5 317.5v2.4M254.5 317.4v2.2M256.5 317.7v1.6M257.5 317.6v2.9M259.5 317.7v1.6M260.5 317.5v2.8M261.5 317.2v1.4M262.5 317.4v2.0M263.5 317.5v1.6M264.5 317.2v2.1M266.5 317.9v2.7M268.5 317.2v2.9M269.5 317.5v2.8M270.5 317.6v1.7M271.5 317.7v2.0M273.5 317.3v1.5M275.5 317.9v2.0M276.5 317.5v2.8M277.5 317.5v2.0M278.5 317.4v1.6M279.5 317.7v1.7M281.5 317.5v1.5M285.5 317.7v1.9M286.5 317.8v2.2M287.5 317.6v2.7M288.5 317.4v2.8M289.5 318.0v2.7M290.5 317.8v2.0M291.5 317.6v2.0M292.5 317.3v2.0M293.5 317.2v2.2M294.5 317.6v2.9M295.5 317.5v1.5M296.5 317.9v2.2M297.5 317.6v2.2M299.5 317.8v1.8M301.5 317.5v2.8M302.5 317.8v1.8M303.5 317.3v2.4M305.5 317.5v1.5M306.5 317.3v3.0M307.5 317.6v2.5M308.5 317.9v1.6M309.5 317.5v3.0M310.5 317.4v2.5M311.5 317.9v1.6M312.5 317.8v2.1M313.5 317.8v2.0M314.5 317.6v2.3M315.5 317.4v1.7M316.5 317.7v2.6M317.5 317.8v2.2M318.5 317.5v1.6M319.5 317.5v3.0M320.5 317.9v2.1M321.5 317.9v2.8M322.5 317.4v1.9M324.5 317.8v2.2M325.5 317.7v1.5M326.5 317.2v2.5M327.5 317.7v2.3M328.5 317.4v2.6M329.5 317.7v2.6M330.5 317.3v1.9M331.5 317.4v1.7M332.5 317.9v2.3M333.5 317.8v2.0M334.5 317.3v2.4M336.5 317.3v2.0M337.5 317.9v2.7M339.5 317.6v2.9M340.5 317.3v1.7M341.5 317.4v2.1M342.5 317.2v2.9M343.5 317.2v2.8M344.5 317.9v1.9M345.5 317.5v2.2M347.5 317.4v1.7M349.5 317.9v1.8M352.5 317.4v1.6M353.5 317.3v1.9M354.5 317.4v1.9M358.5 317.6v2.2M359.5 317.3v3.0M363.5 317.5v1.6M364.5 317.8v2.7M365.5 317.9v2.3M366.5 317.8v1.8M367.5 317.2v2.2M368.5 317.7v2.6M369.5 317.3v2.3M370.5 317.6v1.6M371.5 317.6v2.5M374.5 317.4v1.9M376.5 317.6v2.0M377.5 317.3v1.6M379.5 317.7v2.2M380.5 317.8v1.9M381.5 317.6v2.1M382.5 317.6v2.3M384.5 317.8v2.5M385.5 317.8v1.9M386.5 317.9v2.2M387.5 317.6v2.0M388.5 317.8v2.3M389.5 317.8v1.8M390.5 317.4v1.8M392.5 317.2v2.9M394.5 317.4v1.6M395.5 317.5v2.8M396.5 317.8v1.5M397.5 317.9v2.6M398.5 317.5v2.2M399.5 317.7v1.8M400.5 317.7v2.2M402.5 317.9v2.8M404.5 317.3v2.4M406.5 317.5v2.3M407.5 317.9v2.8M408.5 317.3v2.6M409.5 317.3v2.6M410.5 317.7v2.6M411.5 317.6v2.9M412.5 317.8v2.4M413.5 317.6v1.8M415.5 317.3v2.8M417.5 317.6v1.5" stroke="#3030d8" stroke-width="1" fill="none"/><rect x="42.5" y="199.4" width="385.0" height="131.04999999999998" fill="none" stroke="#5a5a5a" stroke-width="1.1"/><text transform="translate(39.9,333.35) scale(0.88,1)" text-anchor="end" font-size="8.5" stroke="#000" stroke-width="0.12">3.45</text><text transform="translate(39.9,320.25) scale(0.88,1)" text-anchor="end" font-size="8.5" stroke="#000" stroke-width="0.12">3.46</text><text transform="translate(39.9,307.14) scale(0.88,1)" text-anchor="end" font-size="8.5" stroke="#000" stroke-width="0.12">3.47</text><text transform="translate(39.9,294.04) scale(0.88,1)" text-anchor="end" font-size="8.5" stroke="#000" stroke-width="0.12">3.48</text><text transform="translate(39.9,280.93) scale(0.88,1)" text-anchor="end" font-size="8.5" stroke="#000" stroke-width="0.12">3.49</text><text transform="translate(39.9,267.83) scale(0.88,1)" text-anchor="end" font-size="8.5" stroke="#000" stroke-width="0.12">3.50</text><text transform="translate(39.9,254.72) scale(0.88,1)" text-anchor="end" font-size="8.5" stroke="#000" stroke-width="0.12">3.51</text><text transform="translate(39.9,241.62) scale(0.88,1)" text-anchor="end" font-size="8.5" stroke="#000" stroke-width="0.12">3.52</text><text transform="translate(39.9,228.51) scale(0.88,1)" text-anchor="end" font-size="8.5" stroke="#000" stroke-width="0.12">3.53</text><text transform="translate(39.9,215.41) scale(0.88,1)" text-anchor="end" font-size="8.5" stroke="#000" stroke-width="0.12">3.54</text><text transform="translate(39.9,202.30) scale(0.88,1)" text-anchor="end" font-size="8.5" stroke="#000" stroke-width="0.12">3.55</text><text transform="translate(42.50,339.85) scale(0.88,1)" text-anchor="middle" font-size="8.5" stroke="#000" stroke-width="0.12">0.0</text><text transform="translate(115.86,339.85) scale(0.88,1)" text-anchor="middle" font-size="8.5" stroke="#000" stroke-width="0.12">0.2</text><text transform="translate(189.22,339.85) scale(0.88,1)" text-anchor="middle" font-size="8.5" stroke="#000" stroke-width="0.12">0.4</text><text transform="translate(262.58,339.85) scale(0.88,1)" text-anchor="middle" font-size="8.5" stroke="#000" stroke-width="0.12">0.6</text><text transform="translate(335.94,339.85) scale(0.88,1)" text-anchor="middle" font-size="8.5" stroke="#000" stroke-width="0.12">0.8</text><text transform="translate(409.30,339.85) scale(0.88,1)" text-anchor="middle" font-size="8.5" stroke="#000" stroke-width="0.12">1.0</text><path d="M42.5 330.45h2.2M427.5 330.45h-2.2M42.5 323.90h1.4M427.5 323.90h-1.4M42.5 317.35h2.2M427.5 317.35h-2.2M42.5 310.79h1.4M427.5 310.79h-1.4M42.5 304.24h2.2M427.5 304.24h-2.2M42.5 297.69h1.4M427.5 297.69h-1.4M42.5 291.14h2.2M427.5 291.14h-2.2M42.5 284.58h1.4M427.5 284.58h-1.4M42.5 278.03h2.2M427.5 278.03h-2.2M42.5 271.48h1.4M427.5 271.48h-1.4M42.5 264.93h2.2M427.5 264.93h-2.2M42.5 258.37h1.4M427.5 258.37h-1.4M42.5 251.82h2.2M427.5 251.82h-2.2M42.5 245.27h1.4M427.5 245.27h-1.4M42.5 238.72h2.2M427.5 238.72h-2.2M42.5 232.16h1.4M427.5 232.16h-1.4M42.5 225.61h2.2M427.5 225.61h-2.2M42.5 219.06h1.4M427.5 219.06h-1.4M42.5 212.51h2.2M427.5 212.51h-2.2M42.5 205.95h1.4M427.5 205.95h-1.4M42.5 199.40h2.2M427.5 199.40h-2.2M42.50 330.45v-2.2M42.50 199.4v2.2M79.18 330.45v-1.4M79.18 199.4v1.4M115.86 330.45v-2.2M115.86 199.4v2.2M152.54 330.45v-1.4M152.54 199.4v1.4M189.22 330.45v-2.2M189.22 199.4v2.2M225.90 330.45v-1.4M225.90 199.4v1.4M262.58 330.45v-2.2M262.58 199.4v2.2M299.26 330.45v-1.4M299.26 199.4v1.4M335.94 330.45v-2.2M335.94 199.4v2.2M372.62 330.45v-1.4M372.62 199.4v1.4M409.30 330.45v-2.2M409.30 199.4v2.2" stroke="#5a5a5a" stroke-width="0.9" fill="none"/><rect x="42.5" y="199.4" width="215.0" height="21.9" fill="#fff" stroke="#5a5a5a" stroke-width="1"/><line x1="49.3" y1="205.3" x2="68" y2="205.3" stroke="#8080ff" stroke-width="0.9"/><line x1="49.3" y1="214.5" x2="68" y2="214.5" stroke="#808080" stroke-width="0.9"/><text transform="translate(70,207.8) scale(1,1.05)" font-size="8.6" stroke="#000" stroke-width="0.12">measured terminal voltage</text><text transform="translate(70,217.4) scale(1,1.05)" font-size="8.6" stroke="#000" stroke-width="0.12">model prediction terminal voltage (with <tspan font-style="italic">k</tspan><tspan font-style="italic" font-size="5.6" dx="0.4" dy="1.6">I</tspan><tspan dx="0.6" dy="-1.6"> correction)</tspan></text><text x="6.6" y="201.6" font-size="10.5" stroke="#000" stroke-width="0.35">(b)</text><text x="238.0" y="353.7" text-anchor="middle" font-size="8.6" stroke="#000" stroke-width="0.12">time/s</text><text transform="translate(15.1,259.0) rotate(-90)" text-anchor="middle" font-size="8.6" stroke="#000" stroke-width="0.12">voltage/V</text><path d="M35.5 439.2V446.9M35.5 473.8V474.1M36.5 479.5V491.2M37.5 472.6V477.7M40.5 471.7V471.7M41.5 473.0V478.6M42.5 433.7V445.5M43.5 472.7V482.7M45.5 472.4V480.9M48.5 436.7V447.6M48.5 475.1V481.4M49.5 439.0V446.2M53.5 478.9V486.7M54.5 479.4V482.2M55.5 477.3V486.5M56.5 477.2V494.7M58.5 472.3V472.3M61.5 434.8V442.6M61.5 476.5V484.7M62.5 476.9V494.3M63.5 479.2V479.2M64.5 475.4V483.7M65.5 475.6V477.4M67.5 477.2V491.8M69.5 445.0V446.5M69.5 475.7V486.8M75.5 473.2V476.0M78.5 477.6V481.6M79.5 476.4V490.2M80.5 473.5V474.3M81.5 451.2V451.2M84.5 478.6V484.1M92.5 446.7V446.7M92.5 477.4V486.5M93.5 472.5V491.5M94.5 441.4V441.4M102.5 476.6V482.9M107.5 473.0V486.1M108.5 442.7V442.7M110.5 476.5V479.6M112.5 472.9V488.6M115.5 444.5V444.5M115.5 478.5V481.3M117.5 473.3V473.3M118.5 446.9V446.9M118.5 479.6V486.2M119.5 479.1V486.7M120.5 425.8V442.0M120.5 479.1V479.6M121.5 444.4V444.4M125.5 477.2V483.9M126.5 478.8V481.5M128.5 478.5V484.2M131.5 450.4V450.4M132.5 474.9V486.3M139.5 478.1V484.8M140.5 479.1V490.3M142.5 422.8V448.5M142.5 474.1V474.1M143.5 471.9V471.9M144.5 472.2V472.2M149.5 476.3V480.8M150.5 472.7V491.8M153.5 474.2V476.9M154.5 444.3V444.3M157.5 472.6V473.8M160.5 472.7V490.9M161.5 475.1V475.1M163.5 435.4V446.4M164.5 474.7V484.7M166.5 422.8V441.2M168.5 448.0V448.1M168.5 472.1V472.1M169.5 442.6V443.3M170.5 473.8V477.1M172.5 476.0V481.1M173.5 473.7V481.2M174.5 475.6V492.0M175.5 474.9V485.9M176.5 450.3V450.3M176.5 475.9V487.2M177.5 446.7V446.7M179.5 477.7V485.4M185.5 478.3V499.8M186.5 434.3V442.4M186.5 472.3V484.1M188.5 443.4V447.4M188.5 477.7V477.7M189.5 475.7V479.8M190.5 478.3V485.5M191.5 474.7V489.6M193.5 472.2V477.4M194.5 472.2V478.2M197.5 475.3V485.2M198.5 472.8V477.9M200.5 451.5V451.5M204.5 473.2V485.0M206.5 477.0V487.0M207.5 452.3V452.3M207.5 476.1V480.9M208.5 477.0V488.9M209.5 444.7V444.9M210.5 436.3V447.3M211.5 474.4V484.2M215.5 448.8V448.8M215.5 473.0V491.7M217.5 477.8V481.6M222.5 476.7V486.5M227.5 472.8V477.1M229.5 474.6V474.6M230.5 472.4V472.4M231.5 477.8V485.3M232.5 472.8V472.8M233.5 474.8V490.8M235.5 472.8V485.9M236.5 477.6V487.0M237.5 476.8V491.4M238.5 474.5V481.8M241.5 474.5V504.7M242.5 455.3V455.3M248.5 476.4V485.4M251.5 453.3V453.3M252.5 474.3V474.3M253.5 473.1V490.5M255.5 450.4V450.4M256.5 473.5V473.5M257.5 448.4V452.9M258.5 448.1V451.4M260.5 445.6V448.1M260.5 479.1V485.5M261.5 473.9V487.7M262.5 476.2V476.8M263.5 476.0V476.0M266.5 451.3V451.3M266.5 473.8V473.8M267.5 477.4V480.2M268.5 473.7V486.9M269.5 474.2V474.2M274.5 431.8V440.6M275.5 438.7V439.1M278.5 478.4V491.8M280.5 472.6V472.6M281.5 478.0V483.6M282.5 474.0V474.0M284.5 474.2V481.2M289.5 479.1V480.7M292.5 480.6V497.3M294.5 443.6V443.6M296.5 473.8V487.2M297.5 475.9V486.8M300.5 438.1V440.1M305.5 475.8V491.7M306.5 425.2V435.7M306.5 476.1V476.1M307.5 447.8V447.8M307.5 480.9V481.0M308.5 476.4V486.4M314.5 476.8V488.6M316.5 479.2V484.7M320.5 478.9V478.9M323.5 473.5V480.4M324.5 474.4V487.6M325.5 428.3V443.9M326.5 476.3V490.6M327.5 473.7V489.6M330.5 480.1V485.2M331.5 476.1V476.1M334.5 448.4V448.4M334.5 473.6V473.6M336.5 430.3V439.9M336.5 473.3V478.1M338.5 474.0V484.4M340.5 443.6V445.0M342.5 478.9V482.9M346.5 480.1V486.2M351.5 477.9V489.5M352.5 477.3V491.5M357.5 435.7V439.0M363.5 474.3V487.5M368.5 480.2V498.9M372.5 481.5V500.0M373.5 424.0V437.2M373.5 481.5V488.1M375.5 410.8V437.8M378.5 479.2V487.4M381.5 428.4V440.6M383.5 476.4V482.4M389.5 482.0V505.7M392.5 480.4V486.8M393.5 483.7V507.8M394.5 406.7V445.7M397.5 479.6V501.5M401.5 476.8V487.6M405.5 484.2V486.0M407.5 478.6V490.0M409.5 481.7V502.5M410.5 475.7V512.4M412.5 428.0V436.6M412.5 480.7V511.1M413.5 475.6V487.4M415.5 478.7V505.7M418.5 479.4V511.5M420.5 480.7V502.9M421.5 483.2V489.2M423.5 476.6V495.1" stroke="#8c8cff" stroke-width="1" fill="none"/><path d="M32.5 479.3V486.7M33.5 474.0V484.8M34.5 452.8V452.8M36.5 446.6V447.0M38.5 475.9V485.4M39.5 437.2V439.8M39.5 472.3V499.0M40.5 440.1V440.1M41.5 431.9V440.6M42.5 472.3V472.3M44.5 474.8V474.8M47.5 477.6V477.6M49.5 478.2V481.8M50.5 435.4V440.8M50.5 475.0V487.4M51.5 442.2V442.2M52.5 440.8V440.8M52.5 476.7V476.7M53.5 438.6V439.8M60.5 439.3V442.8M60.5 473.5V473.5M66.5 471.8V471.8M67.5 449.6V449.6M68.5 474.4V487.1M70.5 440.8V442.8M70.5 471.8V471.8M71.5 432.5V447.1M72.5 479.2V485.8M74.5 434.6V438.3M76.5 472.5V484.1M77.5 472.7V472.7M80.5 420.8V441.0M81.5 474.0V485.2M82.5 423.1V447.6M84.5 445.6V447.8M86.5 475.7V475.7M87.5 473.3V484.2M89.5 442.2V442.2M89.5 472.2V472.2M91.5 475.0V476.3M96.5 476.3V491.4M97.5 473.8V482.6M98.5 479.3V483.2M99.5 434.5V448.3M99.5 476.1V476.1M101.5 472.5V472.5M104.5 451.6V451.6M104.5 472.6V475.0M105.5 452.5V452.5M106.5 477.8V497.8M108.5 476.3V480.4M109.5 450.8V450.8M109.5 472.4V488.2M111.5 427.6V439.9M111.5 478.7V478.7M112.5 449.9V449.9M113.5 448.6V448.6M113.5 477.0V487.9M114.5 474.6V482.0M116.5 477.4V482.5M122.5 446.2V447.4M123.5 475.4V483.1M125.5 440.4V442.6M126.5 451.7V451.7M128.5 449.7V449.7M130.5 475.3V480.9M132.5 436.0V443.9M133.5 476.6V477.5M134.5 477.3V482.2M135.5 479.4V481.3M136.5 471.6V471.6M137.5 472.6V472.6M138.5 478.2V485.6M141.5 474.2V491.5M145.5 449.7V449.7M145.5 473.0V482.2M146.5 476.6V481.3M147.5 474.3V474.3M149.5 446.4V446.4M151.5 478.6V479.5M153.5 431.3V441.0M155.5 450.0V450.0M155.5 472.5V472.6M156.5 433.5V441.2M158.5 433.0V439.8M158.5 473.1V486.3M161.5 438.4V441.6M162.5 449.8V449.8M162.5 476.5V477.0M163.5 474.9V488.7M165.5 434.1V445.0M165.5 477.1V483.5M167.5 475.2V475.2M169.5 472.8V473.6M173.5 447.3V447.8M174.5 450.8V450.8M178.5 438.3V445.8M178.5 478.8V500.4M179.5 434.2V443.6M180.5 472.5V481.7M181.5 450.4V450.4M181.5 475.7V475.7M182.5 477.9V498.3M183.5 446.2V446.2M184.5 478.1V488.8M185.5 443.2V449.0M189.5 448.2V449.0M192.5 435.8V445.2M192.5 472.9V475.5M196.5 478.5V480.6M198.5 435.5V443.5M199.5 472.4V472.4M200.5 474.5V485.4M201.5 450.9V450.9M201.5 473.8V478.6M203.5 446.7V446.7M203.5 476.1V477.0M205.5 446.2V447.3M210.5 475.3V486.4M212.5 438.2V443.6M212.5 476.5V476.5M213.5 476.0V484.1M217.5 422.8V439.7M219.5 451.3V451.3M219.5 476.6V476.6M221.5 452.9V452.9M221.5 473.7V495.7M222.5 446.7V448.0M223.5 473.6V489.4M224.5 478.7V486.7M225.5 439.5V444.0M226.5 472.3V483.0M228.5 472.0V472.0M229.5 444.1V445.7M232.5 448.4V451.2M233.5 450.4V450.4M234.5 479.1V487.5M236.5 443.8V450.9M239.5 475.0V485.2M243.5 440.4V449.7M244.5 452.4V453.5M244.5 480.3V481.1M245.5 480.0V480.3M246.5 445.7V452.9M246.5 476.5V476.5M247.5 472.7V485.3M249.5 449.8V450.6M250.5 444.0V451.7M251.5 472.8V472.8M254.5 473.9V485.5M257.5 475.5V475.5M259.5 446.7V449.9M259.5 475.1V476.1M262.5 426.7V447.8M264.5 440.5V447.6M264.5 477.7V486.1M265.5 447.4V447.4M265.5 477.3V478.3M270.5 446.9V448.7M270.5 477.6V485.2M271.5 475.2V476.2M272.5 477.9V490.2M273.5 435.2V444.4M273.5 478.4V479.5M275.5 477.1V489.2M276.5 435.4V444.0M280.5 421.6V442.6M281.5 443.9V443.9M282.5 449.5V449.5M283.5 476.6V479.4M285.5 474.4V481.4M286.5 475.6V490.1M290.5 480.0V490.9M291.5 476.3V487.4M292.5 440.9V440.9M293.5 436.0V442.2M293.5 480.5V492.4M296.5 447.8V447.8M298.5 440.1V445.6M299.5 477.8V479.5M300.5 475.0V475.0M301.5 476.8V483.4M302.5 477.3V485.1M303.5 440.6V441.5M308.5 449.6V449.6M310.5 432.9V438.5M310.5 479.2V480.7M311.5 438.0V442.1M312.5 433.1V436.2M312.5 473.3V488.9M313.5 438.5V438.5M313.5 474.8V483.3M314.5 446.2V446.2M315.5 442.2V442.2M315.5 480.7V483.2M318.5 473.8V489.7M319.5 447.7V447.7M319.5 474.8V474.8M320.5 430.1V439.1M321.5 475.0V475.0M322.5 426.9V438.6M322.5 476.5V496.9M329.5 441.7V441.7M329.5 481.0V491.4M330.5 438.0V438.0M332.5 418.5V438.5M333.5 472.8V488.8M335.5 438.1V445.5M335.5 479.7V480.6M337.5 475.8V478.6M339.5 477.2V492.5M340.5 476.4V482.2M341.5 440.9V440.9M344.5 479.1V494.4M345.5 429.4V438.0M346.5 415.7V437.2M348.5 421.0V437.9M348.5 473.5V481.3M349.5 476.1V487.0M350.5 442.1V442.1M350.5 479.6V489.3M354.5 423.1V441.9M354.5 478.8V488.7M355.5 437.6V438.3M355.5 480.8V485.2M356.5 479.8V493.7M358.5 426.9V445.3M358.5 473.7V497.1M359.5 473.7V494.6M360.5 481.5V489.0M361.5 433.5V445.5M361.5 476.8V496.4M363.5 422.3V442.7M364.5 474.8V486.3M366.5 482.5V498.4M369.5 475.9V499.0M370.5 479.4V491.9M372.5 436.3V441.0M375.5 479.6V494.9M377.5 481.4V502.1M378.5 411.8V445.6M379.5 481.5V502.4M380.5 476.1V487.0M382.5 434.5V434.5M384.5 479.4V486.6M385.5 435.6V439.6M385.5 477.8V504.7M387.5 408.8V433.3M388.5 416.7V440.8M390.5 481.7V504.0M392.5 414.8V439.0M394.5 475.5V491.8M395.5 394.0V441.0M395.5 481.7V504.3M396.5 434.3V434.8M396.5 483.4V509.8M398.5 476.3V486.7M400.5 431.1V445.2M402.5 484.1V500.8M403.5 423.5V438.6M404.5 403.0V445.2M404.5 483.6V499.3M406.5 484.0V510.4M408.5 411.0V436.9M411.5 476.1V486.5M413.5 404.6V434.7M415.5 428.3V433.2M417.5 480.3V508.5M418.5 402.5V432.8M419.5 475.7V512.2M420.5 407.8V439.8M422.5 414.0V436.2" stroke="#4646ff" stroke-width="1" fill="none"/><path d="M32.5 439.1V441.0M33.5 431.8V444.0M34.5 473.4V476.0M37.5 433.0V447.7M38.5 453.0V453.0M43.5 432.3V447.3M44.5 430.6V443.3M45.5 434.5V439.0M46.5 450.2V450.2M46.5 473.0V486.5M47.5 434.1V439.7M51.5 477.2V487.3M54.5 431.5V439.9M55.5 436.9V442.8M56.5 435.6V444.3M57.5 438.9V448.7M57.5 472.4V472.4M58.5 448.7V448.7M59.5 453.1V453.1M59.5 478.6V479.8M62.5 439.4V442.9M63.5 433.0V446.0M64.5 414.9V443.7M65.5 442.0V442.3M66.5 434.5V438.8M68.5 450.4V450.4M71.5 474.4V479.4M72.5 434.2V440.5M73.5 440.7V442.7M73.5 478.5V481.7M74.5 479.9V498.8M75.5 434.1V441.3M76.5 449.7V449.7M77.5 451.5V451.5M78.5 439.6V448.7M79.5 441.7V446.3M82.5 479.6V487.9M83.5 450.5V450.5M83.5 477.0V491.5M85.5 443.3V443.3M85.5 477.9V489.0M86.5 452.4V452.4M87.5 433.0V448.2M88.5 444.4V446.2M88.5 473.4V489.6M90.5 431.8V441.7M90.5 474.0V474.0M91.5 452.5V452.5M93.5 428.5V444.7M94.5 476.0V478.7M95.5 447.6V447.6M95.5 472.6V472.6M96.5 452.3V452.3M97.5 450.7V450.7M98.5 442.1V442.1M100.5 427.6V444.5M100.5 473.2V473.2M101.5 437.3V445.1M102.5 436.1V440.8M103.5 438.3V446.3M103.5 478.5V491.1M105.5 472.6V472.6M106.5 443.4V443.4M107.5 449.2V449.2M110.5 433.2V447.0M114.5 452.9V452.9M116.5 438.0V442.6M117.5 451.3V451.3M119.5 434.2V443.5M121.5 473.8V473.8M122.5 477.0V477.0M123.5 451.7V451.7M124.5 432.7V438.4M124.5 473.6V477.7M127.5 447.9V448.2M127.5 473.6V485.8M129.5 432.3V448.1M129.5 472.9V491.1M130.5 444.7V448.4M131.5 479.6V483.8M133.5 444.5V444.5M134.5 434.0V446.6M135.5 450.9V450.9M136.5 434.8V449.1M137.5 441.5V444.3M138.5 431.6V444.9M139.5 432.8V449.0M140.5 434.5V440.8M141.5 443.6V444.6M143.5 448.7V448.7M144.5 432.0V446.3M146.5 444.8V446.6M147.5 436.6V449.2M148.5 439.3V448.9M148.5 475.1V487.8M150.5 422.8V438.8M151.5 441.2V443.1M152.5 442.0V448.6M152.5 472.8V483.1M154.5 475.5V484.4M156.5 472.4V472.4M157.5 431.7V448.3M159.5 446.4V446.4M159.5 471.6V471.6M160.5 447.2V447.2M164.5 438.9V440.7M166.5 475.3V478.3M167.5 446.3V446.3M170.5 443.2V444.5M171.5 444.5V444.5M171.5 476.3V484.5M172.5 431.9V442.9M175.5 449.4V449.4M177.5 475.4V478.4M180.5 422.6V439.9M182.5 438.6V442.8M183.5 475.6V486.6M184.5 447.2V449.1M187.5 448.6V448.6M187.5 472.8V472.9M190.5 433.7V439.0M191.5 438.3V447.2M193.5 427.8V448.1M194.5 434.3V447.6M195.5 436.0V439.0M195.5 476.9V481.3M196.5 443.5V446.0M197.5 448.1V448.1M199.5 438.8V444.3M202.5 450.9V450.9M202.5 478.9V489.2M204.5 442.9V444.5M205.5 475.6V479.0M206.5 450.6V450.6M208.5 439.1V445.7M209.5 478.8V487.6M211.5 447.3V447.3M213.5 445.5V448.8M214.5 452.1V452.1M214.5 475.7V476.1M216.5 432.4V447.4M216.5 474.2V488.7M218.5 440.5V448.9M218.5 474.2V479.4M220.5 445.8V445.8M220.5 478.3V479.6M223.5 442.1V448.4M224.5 451.0V451.0M225.5 476.9V485.0M226.5 443.0V443.0M227.5 452.4V452.4M228.5 439.0V439.3M230.5 446.3V450.7M231.5 448.5V449.7M234.5 455.7V455.7M235.5 448.4V448.9M237.5 446.9V450.1M238.5 452.4V452.4M239.5 453.4V453.4M240.5 456.8V456.8M240.5 474.0V474.0M241.5 452.7V452.7M242.5 474.9V480.5M243.5 478.3V480.2M245.5 455.6V455.6M247.5 447.2V453.6M248.5 456.5V456.5M249.5 472.9V472.9M250.5 479.2V490.7M252.5 445.4V451.3M253.5 452.0V452.0M254.5 443.0V451.9M255.5 477.0V477.0M256.5 441.7V447.8M258.5 477.3V477.3M261.5 443.0V447.8M263.5 439.3V445.1M267.5 441.1V441.1M268.5 439.7V442.4M269.5 443.6V443.6M271.5 427.8V441.8M272.5 437.1V441.0M274.5 476.2V478.3M276.5 473.7V484.8M277.5 430.7V442.6M277.5 474.6V474.6M278.5 442.7V442.7M279.5 429.2V437.2M279.5 477.6V496.9M283.5 434.1V440.0M284.5 428.0V436.7M285.5 442.0V442.0M286.5 440.9V445.2M287.5 426.7V440.0M287.5 474.2V479.1M288.5 414.9V442.1M288.5 475.1V478.6M289.5 448.8V448.8M290.5 427.3V442.6M291.5 445.0V445.0M294.5 481.0V485.5M295.5 449.7V449.7M295.5 473.5V478.7M297.5 428.6V443.0M298.5 477.5V488.3M299.5 444.9V444.9M301.5 413.5V441.5M302.5 429.3V440.4M303.5 477.4V484.8M304.5 444.8V444.8M304.5 476.8V491.0M305.5 446.7V446.7M309.5 437.9V439.2M309.5 473.3V473.3M311.5 480.0V480.0M316.5 432.5V443.1M317.5 443.0V443.0M317.5 475.4V475.4M318.5 426.9V441.5M321.5 441.6V447.2M323.5 441.0V441.0M324.5 436.9V437.3M325.5 476.4V478.2M326.5 424.6V445.1M327.5 434.9V435.5M328.5 413.0V439.9M328.5 478.9V488.4M331.5 430.4V444.9M332.5 475.7V480.6M333.5 431.8V440.1M337.5 428.2V440.3M338.5 442.3V443.1M339.5 442.6V442.6M341.5 481.0V481.4M342.5 432.3V434.6M343.5 431.5V444.5M343.5 476.4V480.6M344.5 434.8V441.2M345.5 476.1V482.3M347.5 419.8V436.8M347.5 474.8V481.0M349.5 429.4V435.8M351.5 424.9V440.8M352.5 430.9V439.3M353.5 419.7V445.9M353.5 477.1V478.5M356.5 429.5V444.4M357.5 477.7V491.1M359.5 410.2V443.3M360.5 429.9V445.0M362.5 433.9V435.7M362.5 477.0V486.8M364.5 439.5V441.2M365.5 416.2V445.7M365.5 476.7V493.0M366.5 438.4V445.5M367.5 434.3V436.1M367.5 474.3V484.1M368.5 418.7V444.7M369.5 431.9V439.8M370.5 435.6V441.9M371.5 433.1V445.5M371.5 476.5V497.4M374.5 420.8V444.2M374.5 482.5V498.7M376.5 431.0V439.8M376.5 475.7V494.1M377.5 421.9V438.6M379.5 425.8V436.9M380.5 413.2V434.2M381.5 475.4V501.6M382.5 476.4V509.4M383.5 437.0V439.9M384.5 427.3V441.5M386.5 414.1V443.6M386.5 477.4V493.3M387.5 478.6V490.4M388.5 481.5V502.8M389.5 425.4V434.0M390.5 411.0V433.2M391.5 403.0V433.5M391.5 482.6V508.2M393.5 424.6V435.4M397.5 409.1V438.1M398.5 431.0V433.5M399.5 418.2V432.1M399.5 475.9V500.5M400.5 482.6V484.7M401.5 404.5V435.9M402.5 424.7V435.5M403.5 478.9V508.4M405.5 419.3V437.2M406.5 406.0V445.2M407.5 414.3V445.5M408.5 481.5V511.5M409.5 423.5V439.7M410.5 401.7V431.5M411.5 401.2V438.7M414.5 413.1V436.4M414.5 480.3V512.9M416.5 406.7V436.9M416.5 475.7V492.8M417.5 408.3V439.0M419.5 414.5V441.6M421.5 417.9V444.3M422.5 480.4V494.9M423.5 414.1V443.6M32.5 441.0V479.3M33.5 444.0V474.0M34.5 452.8V473.4M35.5 446.9V473.8M36.5 447.0V479.5M37.5 447.7V472.6M38.5 453.0V475.9M39.5 439.8V472.3M40.5 440.1V471.7M41.5 440.6V473.0M42.5 445.5V472.3M43.5 447.3V472.7M44.5 443.3V474.8M45.5 439.0V472.4M46.5 450.2V473.0M47.5 439.7V477.6M48.5 447.6V475.1M49.5 446.2V478.2M50.5 440.8V475.0M51.5 442.2V477.2M52.5 440.8V476.7M53.5 439.8V478.9M54.5 439.9V479.4M55.5 442.8V477.3M56.5 444.3V477.2M57.5 448.7V472.4M58.5 448.7V472.3M59.5 453.1V478.6M60.5 442.8V473.5M61.5 442.6V476.5M62.5 442.9V476.9M63.5 446.0V479.2M64.5 443.7V475.4M65.5 442.3V475.6M66.5 438.8V471.8M67.5 449.6V477.2M68.5 450.4V474.4M69.5 446.5V475.7M70.5 442.8V471.8M71.5 447.1V474.4M72.5 440.5V479.2M73.5 442.7V478.5M74.5 438.3V479.9M75.5 441.3V473.2M76.5 449.7V472.5M77.5 451.5V472.7M78.5 448.7V477.6M79.5 446.3V476.4M80.5 441.0V473.5M81.5 451.2V474.0M82.5 447.6V479.6M83.5 450.5V477.0M84.5 447.8V478.6M85.5 443.3V477.9M86.5 452.4V475.7M87.5 448.2V473.3M88.5 446.2V473.4M89.5 442.2V472.2M90.5 441.7V474.0M91.5 452.5V475.0M92.5 446.7V477.4M93.5 444.7V472.5M94.5 441.4V476.0M95.5 447.6V472.6M96.5 452.3V476.3M97.5 450.7V473.8M98.5 442.1V479.3M99.5 448.3V476.1M100.5 444.5V473.2M101.5 445.1V472.5M102.5 440.8V476.6M103.5 446.3V478.5M104.5 451.6V472.6M105.5 452.5V472.6M106.5 443.4V477.8M107.5 449.2V473.0M108.5 442.7V476.3M109.5 450.8V472.4M110.5 447.0V476.5M111.5 439.9V478.7M112.5 449.9V472.9M113.5 448.6V477.0M114.5 452.9V474.6M115.5 444.5V478.5M116.5 442.6V477.4M117.5 451.3V473.3M118.5 446.9V479.6M119.5 443.5V479.1M120.5 442.0V479.1M121.5 444.4V473.8M122.5 447.4V477.0M123.5 451.7V475.4M124.5 438.4V473.6M125.5 442.6V477.2M126.5 451.7V478.8M127.5 448.2V473.6M128.5 449.7V478.5M129.5 448.1V472.9M130.5 448.4V475.3M131.5 450.4V479.6M132.5 443.9V474.9M133.5 444.5V476.6M134.5 446.6V477.3M135.5 450.9V479.4M136.5 449.1V471.6M137.5 444.3V472.6M138.5 444.9V478.2M139.5 449.0V478.1M140.5 440.8V479.1M141.5 444.6V474.2M142.5 448.5V474.1M143.5 448.7V471.9M144.5 446.3V472.2M145.5 449.7V473.0M146.5 446.6V476.6M147.5 449.2V474.3M148.5 448.9V475.1M149.5 446.4V476.3M150.5 438.8V472.7M151.5 443.1V478.6M152.5 448.6V472.8M153.5 441.0V474.2M154.5 444.3V475.5M155.5 450.0V472.5M156.5 441.2V472.4M157.5 448.3V472.6M158.5 439.8V473.1M159.5 446.4V471.6M160.5 447.2V472.7M161.5 441.6V475.1M162.5 449.8V476.5M163.5 446.4V474.9M164.5 440.7V474.7M165.5 445.0V477.1M166.5 441.2V475.3M167.5 446.3V475.2M168.5 448.1V472.1M169.5 443.3V472.8M170.5 444.5V473.8M171.5 444.5V476.3M172.5 442.9V476.0M173.5 447.8V473.7M174.5 450.8V475.6M175.5 449.4V474.9M176.5 450.3V475.9M177.5 446.7V475.4M178.5 445.8V478.8M179.5 443.6V477.7M180.5 439.9V472.5M181.5 450.4V475.7M182.5 442.8V477.9M183.5 446.2V475.6M184.5 449.1V478.1M185.5 449.0V478.3M186.5 442.4V472.3M187.5 448.6V472.8M188.5 447.4V477.7M189.5 449.0V475.7M190.5 439.0V478.3M191.5 447.2V474.7M192.5 445.2V472.9M193.5 448.1V472.2M194.5 447.6V472.2M195.5 439.0V476.9M196.5 446.0V478.5M197.5 448.1V475.3M198.5 443.5V472.8M199.5 444.3V472.4M200.5 451.5V474.5M201.5 450.9V473.8M202.5 450.9V478.9M203.5 446.7V476.1M204.5 444.5V473.2M205.5 447.3V475.6M206.5 450.6V477.0M207.5 452.3V476.1M208.5 445.7V477.0M209.5 444.9V478.8M210.5 447.3V475.3M211.5 447.3V474.4M212.5 443.6V476.5M213.5 448.8V476.0M214.5 452.1V475.7M215.5 448.8V473.0M216.5 447.4V474.2M217.5 439.7V477.8M218.5 448.9V474.2M219.5 451.3V476.6M220.5 445.8V478.3M221.5 452.9V473.7M222.5 448.0V476.7M223.5 448.4V473.6M224.5 451.0V478.7M225.5 444.0V476.9M226.5 443.0V472.3M227.5 452.4V472.8M228.5 439.3V472.0M229.5 445.7V474.6M230.5 450.7V472.4M231.5 449.7V477.8M232.5 451.2V472.8M233.5 450.4V474.8M234.5 455.7V479.1M235.5 448.9V472.8M236.5 450.9V477.6M237.5 450.1V476.8M238.5 452.4V474.5M239.5 453.4V475.0M240.5 456.8V474.0M241.5 452.7V474.5M242.5 455.3V474.9M243.5 449.7V478.3M244.5 453.5V480.3M245.5 455.6V480.0M246.5 452.9V476.5M247.5 453.6V472.7M248.5 456.5V476.4M249.5 450.6V472.9M250.5 451.7V479.2M251.5 453.3V472.8M252.5 451.3V474.3M253.5 452.0V473.1M254.5 451.9V473.9M255.5 450.4V477.0M256.5 447.8V473.5M257.5 452.9V475.5M258.5 451.4V477.3M259.5 449.9V475.1M260.5 448.1V479.1M261.5 447.8V473.9M262.5 447.8V476.2M263.5 445.1V476.0M264.5 447.6V477.7M265.5 447.4V477.3M266.5 451.3V473.8M267.5 441.1V477.4M268.5 442.4V473.7M269.5 443.6V474.2M270.5 448.7V477.6M271.5 441.8V475.2M272.5 441.0V477.9M273.5 444.4V478.4M274.5 440.6V476.2M275.5 439.1V477.1M276.5 444.0V473.7M277.5 442.6V474.6M278.5 442.7V478.4M279.5 437.2V477.6M280.5 442.6V472.6M281.5 443.9V478.0M282.5 449.5V474.0M283.5 440.0V476.6M284.5 436.7V474.2M285.5 442.0V474.4M286.5 445.2V475.6M287.5 440.0V474.2M288.5 442.1V475.1M289.5 448.8V479.1M290.5 442.6V480.0M291.5 445.0V476.3M292.5 440.9V480.6M293.5 442.2V480.5M294.5 443.6V481.0M295.5 449.7V473.5M296.5 447.8V473.8M297.5 443.0V475.9M298.5 445.6V477.5M299.5 444.9V477.8M300.5 440.1V475.0M301.5 441.5V476.8M302.5 440.4V477.3M303.5 441.5V477.4M304.5 444.8V476.8M305.5 446.7V475.8M306.5 435.7V476.1M307.5 447.8V480.9M308.5 449.6V476.4M309.5 439.2V473.3M310.5 438.5V479.2M311.5 442.1V480.0M312.5 436.2V473.3M313.5 438.5V474.8M314.5 446.2V476.8M315.5 442.2V480.7M316.5 443.1V479.2M317.5 443.0V475.4M318.5 441.5V473.8M319.5 447.7V474.8M320.5 439.1V478.9M321.5 447.2V475.0M322.5 438.6V476.5M323.5 441.0V473.5M324.5 437.3V474.4M325.5 443.9V476.4M326.5 445.1V476.3M327.5 435.5V473.7M328.5 439.9V478.9M329.5 441.7V481.0M330.5 438.0V480.1M331.5 444.9V476.1M332.5 438.5V475.7M333.5 440.1V472.8M334.5 448.4V473.6M335.5 445.5V479.7M336.5 439.9V473.3M337.5 440.3V475.8M338.5 443.1V474.0M339.5 442.6V477.2M340.5 445.0V476.4M341.5 440.9V481.0M342.5 434.6V478.9M343.5 444.5V476.4M344.5 441.2V479.1M345.5 438.0V476.1M346.5 437.2V480.1M347.5 436.8V474.8M348.5 437.9V473.5M349.5 435.8V476.1M350.5 442.1V479.6M351.5 440.8V477.9M352.5 439.3V477.3M353.5 445.9V477.1M354.5 441.9V478.8M355.5 438.3V480.8M356.5 444.4V479.8M357.5 439.0V477.7M358.5 445.3V473.7M359.5 443.3V473.7M360.5 445.0V481.5M361.5 445.5V476.8M362.5 435.7V477.0M363.5 442.7V474.3M364.5 441.2V474.8M365.5 445.7V476.7M366.5 445.5V482.5M367.5 436.1V474.3M368.5 444.7V480.2M369.5 439.8V475.9M370.5 441.9V479.4M371.5 445.5V476.5M372.5 441.0V481.5M373.5 437.2V481.5M374.5 444.2V482.5M375.5 437.8V479.6M376.5 439.8V475.7M377.5 438.6V481.4M378.5 445.6V479.2M379.5 436.9V481.5M380.5 434.2V476.1M381.5 440.6V475.4M382.5 434.5V476.4M383.5 439.9V476.4M384.5 441.5V479.4M385.5 439.6V477.8M386.5 443.6V477.4M387.5 433.3V478.6M388.5 440.8V481.5M389.5 434.0V482.0M390.5 433.2V481.7M391.5 433.5V482.6M392.5 439.0V480.4M393.5 435.4V483.7M394.5 445.7V475.5M395.5 441.0V481.7M396.5 434.8V483.4M397.5 438.1V479.6M398.5 433.5V476.3M399.5 432.1V475.9M400.5 445.2V482.6M401.5 435.9V476.8M402.5 435.5V484.1M403.5 438.6V478.9M404.5 445.2V483.6M405.5 437.2V484.2M406.5 445.2V484.0M407.5 445.5V478.6M408.5 436.9V481.5M409.5 439.7V481.7M410.5 431.5V475.7M411.5 438.7V476.1M412.5 436.6V480.7M413.5 434.7V475.6M414.5 436.4V480.3M415.5 433.2V478.7M416.5 436.9V475.7M417.5 439.0V480.3M418.5 432.8V479.4M419.5 441.6V475.7M420.5 439.8V480.7M421.5 444.3V483.2M422.5 436.2V480.4M423.5 443.6V476.6" stroke="#0000ff" stroke-width="1" fill="none"/><path d="M32.5 457.0V469.5M33.5 457.4V470.0M34.5 456.3V472.9M35.5 457.5V472.7M36.5 457.2V469.3M37.5 455.2V471.3M38.5 454.8V468.0M39.5 456.6V470.0M40.5 455.7V472.8M41.5 457.3V468.5M42.5 455.7V468.1M43.5 457.5V469.9M44.5 453.6V468.1M45.5 455.6V472.6M46.5 455.4V468.0M47.5 456.8V471.9M48.5 457.5V473.0M49.5 457.2V468.0M50.5 450.2V471.9M51.5 455.4V468.6M52.5 457.0V470.4M53.5 454.2V470.5M54.5 457.5V467.9M55.5 451.8V470.1M56.5 457.8V470.9M57.5 456.0V468.9M58.5 454.0V470.3M59.5 455.7V472.5M60.5 456.6V472.4M61.5 457.4V467.7M62.5 456.6V473.3M63.5 457.1V468.4M64.5 455.2V468.1M65.5 457.3V469.7M66.5 451.2V467.8M67.5 456.8V470.1M68.5 454.5V469.9M69.5 455.2V471.1M70.5 456.3V468.7M71.5 456.6V467.9M72.5 455.7V469.2M73.5 453.0V472.6M74.5 455.1V470.6M75.5 455.8V472.7M76.5 453.9V472.6M77.5 456.0V468.0M78.5 456.8V471.7M79.5 456.9V470.7M80.5 456.5V470.3M81.5 456.3V472.9M82.5 456.9V467.7M83.5 456.7V469.3M84.5 454.5V469.3M85.5 457.2V468.6M86.5 455.5V472.2M87.5 456.4V471.4M88.5 455.6V472.1M89.5 457.8V471.9M90.5 454.3V476.0M91.5 456.4V467.7M92.5 455.6V468.2M93.5 456.4V472.9M94.5 454.9V472.5M95.5 453.5V470.4M96.5 456.1V472.7M97.5 453.3V468.7M98.5 455.2V468.7M99.5 455.8V472.3M100.5 453.3V469.9M101.5 457.7V467.8M102.5 455.3V469.5M103.5 456.5V468.5M104.5 454.4V470.0M105.5 448.0V469.9M106.5 455.3V469.4M107.5 455.6V468.9M108.5 453.3V469.4M109.5 457.0V471.1M110.5 457.7V471.5M111.5 455.5V470.5M112.5 455.6V472.5M113.5 457.4V471.0M114.5 456.0V472.6M115.5 454.0V472.0M116.5 457.2V471.0M117.5 454.6V467.7M118.5 455.4V468.7M119.5 456.8V469.8M120.5 457.0V468.5M121.5 447.3V472.2M122.5 456.2V472.3M123.5 456.0V469.3M124.5 453.2V472.6M125.5 454.6V469.4M126.5 455.8V468.4M127.5 453.8V470.9M128.5 457.1V472.7M129.5 453.5V468.4M130.5 456.0V470.6M131.5 454.4V470.1M132.5 455.7V472.0M133.5 449.5V471.6M134.5 457.0V469.1M135.5 455.1V469.4M136.5 453.2V467.9M137.5 455.5V469.5M138.5 455.6V470.0M139.5 453.2V469.4M140.5 457.2V469.1M141.5 456.1V472.0M142.5 457.2V472.3M143.5 453.6V469.6M144.5 453.6V469.6M145.5 453.8V468.6M146.5 457.2V469.1M147.5 457.1V470.7M148.5 451.6V468.7M149.5 454.0V471.2M150.5 451.4V469.1M151.5 456.7V471.5M152.5 457.7V468.3M153.5 453.9V470.1M154.5 457.1V468.4M155.5 455.1V468.4M156.5 455.5V475.3M157.5 455.6V471.4M158.5 457.0V468.6M159.5 453.9V472.8M160.5 456.0V468.6M161.5 454.2V468.4M162.5 457.9V473.0M163.5 457.1V469.3M164.5 457.3V470.6M165.5 457.5V467.7M166.5 454.7V468.7M167.5 457.8V467.8M168.5 455.7V469.8M169.5 457.5V469.0M170.5 453.0V468.4M171.5 455.0V470.8M172.5 454.1V478.0M173.5 453.4V469.9M174.5 455.1V470.3M175.5 457.7V471.8M176.5 453.8V472.9M177.5 457.6V468.4M178.5 453.7V470.0M179.5 448.8V470.3M180.5 457.6V471.8M181.5 454.9V472.0M182.5 457.5V467.7M183.5 455.8V471.4M184.5 456.7V471.4M185.5 457.4V468.0M186.5 457.0V475.6M187.5 457.3V472.5M188.5 453.3V469.4M189.5 457.3V470.0M190.5 455.7V474.5M191.5 456.5V469.9M192.5 457.3V470.1M193.5 456.3V467.9M194.5 455.7V473.8M195.5 455.1V470.8M196.5 457.0V469.5M197.5 454.9V472.6M198.5 457.0V468.4M199.5 457.0V469.0M200.5 454.8V470.8M201.5 457.1V469.0M202.5 455.2V470.1M203.5 455.5V470.1M204.5 455.0V469.5M205.5 454.6V469.1M206.5 454.7V469.2M207.5 455.2V468.6M208.5 457.3V471.8M209.5 454.7V468.3M210.5 453.3V470.1M211.5 453.9V467.6M212.5 456.3V469.4M213.5 456.1V468.7M214.5 456.8V469.8M215.5 457.0V470.9M216.5 454.5V468.8M217.5 457.5V471.0M218.5 454.4V470.0M219.5 455.7V468.2M220.5 454.4V471.0M221.5 457.1V467.9M222.5 456.4V469.6M223.5 457.2V469.5M224.5 455.5V472.4M225.5 456.1V474.5M226.5 454.6V468.1M227.5 456.4V469.8M228.5 453.7V471.9M229.5 455.7V469.8M230.5 454.6V468.6M231.5 455.6V469.3M232.5 447.8V468.3M233.5 457.8V469.9M234.5 453.8V470.1M235.5 456.1V468.0M236.5 455.5V470.8M237.5 456.1V468.0M238.5 457.5V467.9M239.5 457.0V468.3M240.5 453.7V468.6M241.5 454.8V469.2M242.5 454.7V468.5M243.5 456.0V467.8M244.5 457.5V470.8M245.5 454.4V470.6M246.5 453.3V471.1M247.5 450.9V468.4M248.5 453.0V468.2M249.5 455.5V469.2M250.5 455.3V472.9M251.5 456.4V472.8M252.5 455.1V471.7M253.5 456.2V468.7M254.5 457.4V468.3M255.5 456.8V471.9M256.5 454.7V470.4M257.5 457.8V468.8M258.5 456.8V468.3M259.5 453.2V468.7M260.5 455.3V469.7M261.5 457.3V468.4M262.5 457.6V471.0M263.5 456.6V469.5M264.5 453.3V468.4M265.5 454.4V473.0M266.5 457.1V468.1M267.5 457.6V469.1M268.5 454.9V469.9M269.5 456.4V470.9M270.5 456.9V469.0M271.5 457.6V468.5M272.5 454.2V468.7M273.5 449.9V470.5M274.5 457.2V470.7M275.5 455.1V469.3M276.5 455.1V476.8M277.5 455.6V475.6M278.5 456.1V470.2M279.5 453.8V469.7M280.5 456.4V470.6M281.5 454.8V472.5M282.5 455.1V469.0M283.5 456.6V471.0M284.5 456.1V469.3M285.5 454.3V470.2M286.5 456.0V477.0M287.5 453.4V470.4M288.5 456.1V467.9M289.5 456.2V469.6M290.5 457.4V470.4M291.5 457.6V467.7M292.5 454.3V467.9M293.5 456.3V470.7M294.5 455.3V469.8M295.5 457.2V468.6M296.5 455.0V468.7M297.5 457.5V467.8M298.5 455.5V468.2M299.5 457.0V470.0M300.5 456.1V470.1M301.5 457.6V469.9M302.5 446.3V470.7M303.5 454.6V469.8M304.5 456.9V472.9M305.5 455.0V471.8M306.5 454.7V468.8M307.5 455.7V469.8M308.5 455.0V468.7M309.5 457.5V468.2M310.5 456.1V469.0M311.5 456.8V469.8M312.5 454.0V468.5M313.5 456.0V468.5M314.5 457.8V469.1M315.5 456.3V470.7M316.5 456.8V467.8M317.5 457.0V472.9M318.5 455.8V470.6M319.5 455.2V469.1M320.5 453.5V468.0M321.5 456.9V469.0M322.5 457.5V470.1M323.5 455.6V469.5M324.5 456.4V470.9M325.5 457.4V473.5M326.5 455.9V469.2M327.5 457.0V470.2M328.5 455.5V467.8M329.5 454.0V468.2M330.5 457.6V471.8M331.5 454.4V471.4M332.5 457.9V470.2M333.5 455.7V470.0M334.5 456.4V469.5M335.5 455.9V468.2M336.5 454.4V471.8M337.5 453.9V470.3M338.5 455.6V468.3M339.5 457.7V469.3M340.5 457.5V471.0M341.5 455.6V471.9M342.5 453.4V469.5M343.5 457.6V471.8M344.5 457.1V475.9M345.5 449.5V470.9M346.5 456.0V470.5M347.5 457.6V468.4M348.5 457.7V472.0M349.5 455.2V472.0M350.5 450.5V471.1M351.5 455.8V470.6M352.5 455.9V469.6M353.5 455.9V471.3M354.5 457.6V468.7M355.5 455.5V468.1M356.5 455.8V471.3M357.5 455.1V473.6M358.5 453.4V472.1M359.5 455.1V469.9M360.5 456.8V469.9M361.5 453.8V471.2M362.5 455.0V469.8M363.5 457.8V469.3M364.5 456.0V473.0M365.5 454.4V472.9M366.5 457.3V469.5M367.5 456.3V472.8M368.5 454.0V472.2M369.5 453.8V468.4M370.5 456.9V470.4M371.5 455.6V470.1M372.5 454.3V468.7M373.5 457.3V469.4M374.5 455.5V467.7M375.5 456.8V468.7M376.5 454.5V470.9M377.5 456.7V469.2M378.5 456.3V468.5M379.5 457.3V469.1M380.5 457.9V472.5M381.5 456.3V470.6M382.5 454.2V469.3M383.5 456.0V470.6M384.5 453.8V468.4M385.5 455.9V469.1M386.5 455.1V470.1M387.5 456.7V470.0M388.5 453.1V472.0M389.5 456.7V471.5M390.5 456.2V468.6M391.5 457.5V472.9M392.5 456.5V472.9M393.5 454.9V472.1M394.5 457.5V469.7M395.5 457.6V469.0M396.5 455.0V468.7M397.5 457.4V469.0M398.5 456.9V470.8M399.5 454.9V469.7M400.5 456.2V469.1M401.5 455.0V469.7M402.5 450.6V471.0M403.5 457.6V468.2M404.5 456.7V470.8M405.5 456.6V470.4M406.5 454.8V473.0M407.5 453.6V468.5M408.5 457.5V471.4M409.5 453.3V468.3M410.5 455.7V471.6M411.5 453.3V468.7M412.5 455.7V470.7M413.5 457.2V468.1M414.5 455.1V472.0M415.5 456.6V471.1M416.5 453.7V468.5M417.5 456.6V470.3M418.5 453.0V470.2M419.5 456.9V469.3M420.5 455.6V469.3M421.5 455.7V468.5M422.5 455.5V469.4M423.5 457.3V470.5" stroke="#ff0000" stroke-width="1" fill="none"/><rect x="32.0" y="384.7" width="401.7" height="136.59999999999997" fill="none" stroke="#5a5a5a" stroke-width="1.1"/><text transform="translate(29.0,524.20) scale(0.88,1)" text-anchor="end" font-size="8.5" stroke="#000" stroke-width="0.12">−6</text><text transform="translate(29.0,504.69) scale(0.88,1)" text-anchor="end" font-size="8.5" stroke="#000" stroke-width="0.12">−4</text><text transform="translate(29.0,485.17) scale(0.88,1)" text-anchor="end" font-size="8.5" stroke="#000" stroke-width="0.12">−2</text><text transform="translate(29.0,465.66) scale(0.88,1)" text-anchor="end" font-size="8.5" stroke="#000" stroke-width="0.12">0</text><text transform="translate(29.0,446.14) scale(0.88,1)" text-anchor="end" font-size="8.5" stroke="#000" stroke-width="0.12">2</text><text transform="translate(29.0,426.63) scale(0.88,1)" text-anchor="end" font-size="8.5" stroke="#000" stroke-width="0.12">4</text><text transform="translate(29.0,407.11) scale(0.88,1)" text-anchor="end" font-size="8.5" stroke="#000" stroke-width="0.12">6</text><text transform="translate(29.0,387.60) scale(0.88,1)" text-anchor="end" font-size="8.5" stroke="#000" stroke-width="0.12">8</text><text transform="translate(32.00,530.80) scale(0.88,1)" text-anchor="middle" font-size="8.5" stroke="#000" stroke-width="0.12">0.0</text><text transform="translate(108.52,530.80) scale(0.88,1)" text-anchor="middle" font-size="8.5" stroke="#000" stroke-width="0.12">0.2</text><text transform="translate(185.04,530.80) scale(0.88,1)" text-anchor="middle" font-size="8.5" stroke="#000" stroke-width="0.12">0.4</text><text transform="translate(261.56,530.80) scale(0.88,1)" text-anchor="middle" font-size="8.5" stroke="#000" stroke-width="0.12">0.6</text><text transform="translate(338.08,530.80) scale(0.88,1)" text-anchor="middle" font-size="8.5" stroke="#000" stroke-width="0.12">0.8</text><text transform="translate(414.60,530.80) scale(0.88,1)" text-anchor="middle" font-size="8.5" stroke="#000" stroke-width="0.12">1.0</text><path d="M32.0 521.30h2.2M433.7 521.30h-2.2M32.0 511.54h1.4M433.7 511.54h-1.4M32.0 501.79h2.2M433.7 501.79h-2.2M32.0 492.03h1.4M433.7 492.03h-1.4M32.0 482.27h2.2M433.7 482.27h-2.2M32.0 472.51h1.4M433.7 472.51h-1.4M32.0 462.76h2.2M433.7 462.76h-2.2M32.0 453.00h1.4M433.7 453.00h-1.4M32.0 443.24h2.2M433.7 443.24h-2.2M32.0 433.49h1.4M433.7 433.49h-1.4M32.0 423.73h2.2M433.7 423.73h-2.2M32.0 413.97h1.4M433.7 413.97h-1.4M32.0 404.21h2.2M433.7 404.21h-2.2M32.0 394.46h1.4M433.7 394.46h-1.4M32.0 384.70h2.2M433.7 384.70h-2.2M32.00 521.3v-2.2M32.00 384.7v2.2M70.26 521.3v-1.4M70.26 384.7v1.4M108.52 521.3v-2.2M108.52 384.7v2.2M146.78 521.3v-1.4M146.78 384.7v1.4M185.04 521.3v-2.2M185.04 384.7v2.2M223.30 521.3v-1.4M223.30 384.7v1.4M261.56 521.3v-2.2M261.56 384.7v2.2M299.82 521.3v-1.4M299.82 384.7v1.4M338.08 521.3v-2.2M338.08 384.7v2.2M376.34 521.3v-1.4M376.34 384.7v1.4M414.60 521.3v-2.2M414.60 384.7v2.2" stroke="#5a5a5a" stroke-width="0.9" fill="none"/><rect x="32.0" y="384.7" width="104.69999999999999" height="22.5" fill="#fff" stroke="#5a5a5a" stroke-width="1"/><line x1="38.2" y1="390.6" x2="56.5" y2="390.6" stroke="#9a9aff" stroke-width="1"/><line x1="38.2" y1="400.4" x2="56.5" y2="400.4" stroke="#ff4a4a" stroke-width="1"/><text transform="translate(59.3,393.3) scale(1,1.05)" font-size="8.6" stroke="#000" stroke-width="0.12">without <tspan font-style="italic">k</tspan><tspan font-style="italic" font-size="5.6" dx="0.4" dy="1.6">I</tspan><tspan dx="0.6" dy="-1.6"> correction</tspan></text><text transform="translate(59.3,403.1) scale(1,1.05)" font-size="8.6" stroke="#000" stroke-width="0.12">with <tspan font-style="italic">k</tspan><tspan font-style="italic" font-size="5.6" dx="0.4" dy="1.6">I</tspan><tspan dx="0.6" dy="-1.6"> correction</tspan></text><text x="6.7" y="387.2" font-size="10.5" stroke="#000" stroke-width="0.35">(c)</text><text x="232.1" y="545.3" text-anchor="middle" font-size="8.6" stroke="#000" stroke-width="0.12">time/s</text><text transform="translate(16.0,454.9) rotate(-90)" text-anchor="middle" font-size="8.3" stroke="#000" stroke-width="0.12">Voltage error/mV</text></svg>
</body></html>
